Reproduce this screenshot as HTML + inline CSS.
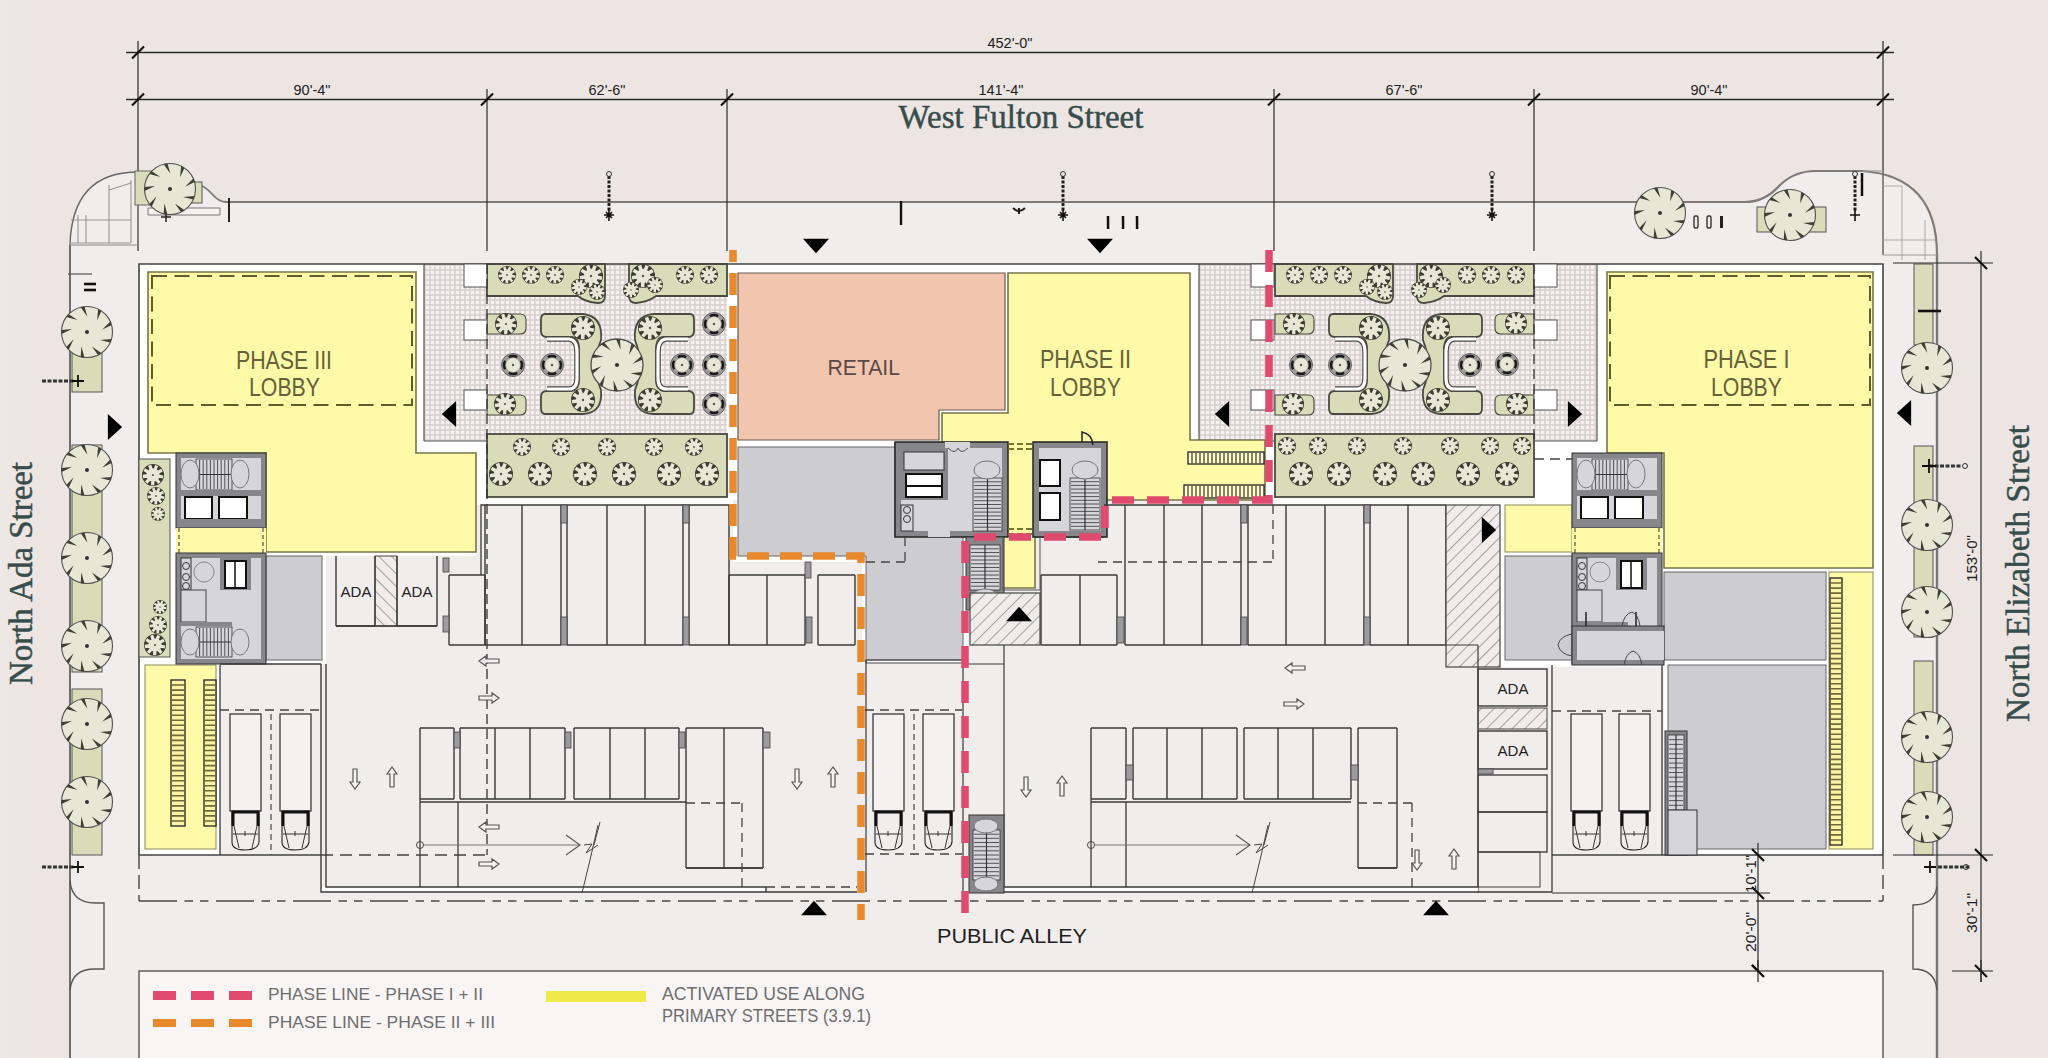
<!DOCTYPE html><html><head><meta charset="utf-8"><style>html,body{margin:0;padding:0;overflow:hidden;background:#ece5e2}svg{display:block}</style></head><body><svg width="2048" height="1058" viewBox="0 0 2048 1058">
<defs><pattern id="pav" width="5" height="5" patternUnits="userSpaceOnUse"><rect width="5" height="5" fill="#d8d1d0"/><rect x="0.8" y="0.8" width="3.4" height="3.4" fill="#f7f1f1"/></pattern><pattern id="hat" width="9" height="9" patternUnits="userSpaceOnUse" patternTransform="rotate(45)"><rect width="9" height="9" fill="#f1eceb"/><line x1="0" y1="0" x2="0" y2="9" stroke="#555" stroke-width="1"/></pattern><linearGradient id="vig" x1="0" x2="1" y1="0" y2="0"><stop offset="0" stop-color="#eee8e6"/><stop offset="0.02" stop-color="#ede6e3" stop-opacity="0"/><stop offset="1" stop-color="#ede6e3" stop-opacity="0"/></linearGradient><pattern id="hat2" width="9" height="9" patternUnits="userSpaceOnUse" patternTransform="rotate(-45)"><rect width="9" height="9" fill="#f1eceb"/><line x1="0" y1="0" x2="0" y2="9" stroke="#555" stroke-width="1"/></pattern></defs>
<rect x="0" y="0" width="2048" height="1058" fill="#ece5e2" stroke="none" stroke-width="1" />
<path d="M70 1058 L70 245 Q72 172 138 172 L180 172 Q205 185 215 196 Q220 202 230 202 L1745 202 Q1765 202 1780 185 Q1795 171 1815 171 L1862 171 Q1937 176 1937 255 L1937 1058 Z" fill="#f1edec" stroke="none" stroke-width="1" />
<path d="M225 202 L1745 202 Q1765 202 1780 185 Q1795 171 1815 171 L1862 171 Q1937 176 1937 255 L1937 1058" fill="none" stroke="#807a78" stroke-width="2.2" />
<path d="M70 1058 L70 245 Q72 172 138 172" fill="none" stroke="#666" stroke-width="1.4" />
<rect x="0" y="0" width="2048" height="1058" fill="url(#vig)" stroke="none" stroke-width="1" />
<line x1="126" y1="52.5" x2="1894" y2="52.5" stroke="#2a2a2a" stroke-width="1.3" />
<line x1="126" y1="99.5" x2="1894" y2="99.5" stroke="#2a2a2a" stroke-width="1.3" />
<line x1="138" y1="41" x2="138" y2="251" stroke="#2a2a2a" stroke-width="1.2" />
<line x1="1883" y1="41" x2="1883" y2="255" stroke="#2a2a2a" stroke-width="1.2" />
<line x1="487" y1="89" x2="487" y2="251" stroke="#2a2a2a" stroke-width="1.2" />
<line x1="727" y1="89" x2="727" y2="251" stroke="#2a2a2a" stroke-width="1.2" />
<line x1="1274" y1="89" x2="1274" y2="251" stroke="#2a2a2a" stroke-width="1.2" />
<line x1="1534" y1="89" x2="1534" y2="251" stroke="#2a2a2a" stroke-width="1.2" />
<line x1="132" y1="58.5" x2="144" y2="46.5" stroke="#111" stroke-width="2.2" />
<line x1="132" y1="105.5" x2="144" y2="93.5" stroke="#111" stroke-width="2.2" />
<line x1="1877" y1="58.5" x2="1889" y2="46.5" stroke="#111" stroke-width="2.2" />
<line x1="1877" y1="105.5" x2="1889" y2="93.5" stroke="#111" stroke-width="2.2" />
<line x1="481" y1="105.5" x2="493" y2="93.5" stroke="#111" stroke-width="2.2" />
<line x1="721" y1="105.5" x2="733" y2="93.5" stroke="#111" stroke-width="2.2" />
<line x1="1268" y1="105.5" x2="1280" y2="93.5" stroke="#111" stroke-width="2.2" />
<line x1="1528" y1="105.5" x2="1540" y2="93.5" stroke="#111" stroke-width="2.2" />
<text x="1010" y="48" font-family="Liberation Sans" font-size="14.5" fill="#222" text-anchor="middle" >452'-0"</text>
<text x="312" y="95" font-family="Liberation Sans" font-size="14.5" fill="#222" text-anchor="middle" >90'-4"</text>
<text x="607" y="95" font-family="Liberation Sans" font-size="14.5" fill="#222" text-anchor="middle" >62'-6"</text>
<text x="1001" y="95" font-family="Liberation Sans" font-size="14.5" fill="#222" text-anchor="middle" >141'-4"</text>
<text x="1404" y="95" font-family="Liberation Sans" font-size="14.5" fill="#222" text-anchor="middle" >67'-6"</text>
<text x="1709" y="95" font-family="Liberation Sans" font-size="14.5" fill="#222" text-anchor="middle" >90'-4"</text>
<text x="1021" y="128" font-family="Liberation Serif" font-size="33" fill="#374d4c" text-anchor="middle" stroke="#374d4c" stroke-width="0.45">West Fulton Street</text>
<rect x="139" y="264" width="1744" height="591" fill="#f1edec" stroke="none" stroke-width="1" />
<path d="M139 264 L1883 264 L1883 855 L1664 855 L1664 667 L1500 667 L1500 505 L1274 505 L1274 500 L733 500 L733 505 L476 505 L476 556 L326 556 L326 664 L220 664 L220 855 L139 855 Z" fill="#ffffff" stroke="none" stroke-width="1" />
<path d="M733 505 L733 562 L862 562 L862 664 L968 664 L968 537 L1104 537 L1104 505 Z" fill="#ffffff" stroke="none" stroke-width="1" />
<rect x="424" y="264" width="63" height="177" fill="url(#pav)" stroke="none" stroke-width="1" />
<rect x="487" y="264" width="240" height="170" fill="url(#pav)" stroke="none" stroke-width="1" />
<rect x="1199" y="264" width="76" height="177" fill="url(#pav)" stroke="none" stroke-width="1" />
<rect x="1275" y="264" width="259" height="170" fill="url(#pav)" stroke="none" stroke-width="1" />
<rect x="1534" y="264" width="63" height="177" fill="url(#pav)" stroke="none" stroke-width="1" />
<path d="M424 441 L487 441 M424 264 L424 441 M1199 264 L1199 441 L1275 441 M1534 441 L1597 441 L1597 264" fill="none" stroke="#555" stroke-width="1.2" />
<path d="M148 272 L416 272 L416 453 L476 453 L476 552 L266 552 L266 453 L148 453 Z" fill="#fffaa8" stroke="#77754a" stroke-width="1.6" />
<rect x="152" y="276" width="260" height="129" fill="none" stroke="#5f5d2c" stroke-width="2" stroke-dasharray="15 7.5"/>
<path d="M738 273 L1005 273 L1005 410 L939 410 L939 440 L738 440 Z" fill="#f2c6ae" stroke="#6a5a50" stroke-width="1.2" />
<path d="M1008 273 L1190 273 L1190 440 L1265 440 L1265 500 L1104 500 L1104 537 L1035 537 L1035 588 L1003 588 L1003 537 L895 537 L895 443 L942 443 L942 413 L1008 413 Z" fill="#fffaa8" stroke="#77754a" stroke-width="1.6" />
<path d="M1607 272 L1873 272 L1873 568 L1664 568 L1664 453 L1607 453 Z" fill="#fffaa8" stroke="#77754a" stroke-width="1.6" />
<rect x="1505" y="505" width="67" height="47" fill="#fffaa8" stroke="#8a8a5a" stroke-width="1" />
<rect x="1610" y="276" width="260" height="129" fill="none" stroke="#5f5d2c" stroke-width="2" stroke-dasharray="15 7.5"/>
<rect x="738" y="447" width="157" height="109" fill="#cdccd1" stroke="#666" stroke-width="1" />
<rect x="866" y="537" width="97" height="123" fill="#cdccd1" stroke="none" stroke-width="1" />
<path d="M866 556 L866 660 L963 660 L963 537" fill="none" stroke="#666" stroke-width="1" />
<rect x="266" y="556" width="56" height="104" fill="#cdccd1" stroke="#666" stroke-width="1" />
<rect x="1505" y="556" width="67" height="104" fill="#cdccd1" stroke="#666" stroke-width="1" />
<rect x="1664" y="572" width="162" height="88" fill="#cdccd1" stroke="#666" stroke-width="1" />
<rect x="1668" y="665" width="158" height="184" fill="#cdccd1" stroke="#666" stroke-width="1" />
<rect x="145" y="665" width="71" height="184" fill="#fffaa8" stroke="#8a8a5a" stroke-width="1" />
<rect x="1829" y="572" width="44" height="277" fill="#fffaa8" stroke="#8a8a5a" stroke-width="1" />
<path d="M139 855 L139 264 L1883 264 L1883 855 M139 855 L321 855 M1552 855 L1883 855" fill="none" stroke="#444" stroke-width="1.6" />
<line x1="321" y1="855" x2="487" y2="855" stroke="#444" stroke-width="1.4" stroke-dasharray="12 7"/>
<path d="M487 264 L605 264 L605 296 Q605 303 598 303 Q585 302 578 296 L487 296 Z" fill="#d9dcb9" stroke="#4a4a42" stroke-width="1.8" />
<path d="M629 264 L727 264 L727 296 L656 296 Q648 302 636 303 Q629 303 629 296 Z" fill="#d9dcb9" stroke="#4a4a42" stroke-width="1.8" />
<rect x="487" y="434" width="240" height="63" fill="#d9dcb9" stroke="#4a4a42" stroke-width="1.8" />
<path d="M545 314 L583 314 Q603 316 601 340 Q591 365 601 390 Q603 413 583 414 L545 414 Q541 414 541 408 L541 397 Q541 391 547 391 L571 391 Q579 390 579 380 L579 350 Q579 337 571 337 L547 337 Q541 337 541 331 L541 320 Q541 314 545 314 Z" fill="#d9dcb9" stroke="#4a4a42" stroke-width="1.8" />
<path d="M547 339 L569 339 Q577 340 577 352 L577 378 Q577 389 569 389 L547 389" fill="none" stroke="#4a4a42" stroke-width="5.5" />
<path d="M547 339 L569 339 Q577 340 577 352 L577 378 Q577 389 569 389 L547 389" fill="none" stroke="#fff" stroke-width="3.2" />
<path d="M690 314 L653 314 Q633 316 635 340 Q645 365 635 390 Q633 413 653 414 L690 414 Q694 414 694 408 L694 397 Q694 391 688 391 L664 391 Q656 390 656 380 L656 350 Q656 337 664 337 L688 337 Q694 337 694 331 L694 320 Q694 314 690 314 Z" fill="#d9dcb9" stroke="#4a4a42" stroke-width="1.8" />
<path d="M688 339 L666 339 Q658 340 658 352 L658 378 Q658 389 666 389 L688 389" fill="none" stroke="#4a4a42" stroke-width="5.5" />
<path d="M688 339 L666 339 Q658 340 658 352 L658 378 Q658 389 666 389 L688 389" fill="none" stroke="#fff" stroke-width="3.2" />
<path d="M487 314 L520 314 Q526 314 526 320 L526 328 Q526 334 520 334 L487 334 Z" fill="#d9dcb9" stroke="#4a4a42" stroke-width="1.1" />
<path d="M487 395 L520 395 Q526 395 526 401 L526 409 Q526 415 520 415 L487 415 Z" fill="#d9dcb9" stroke="#4a4a42" stroke-width="1.1" />
<circle cx="507" cy="275" r="9" fill="#3b3c32"/>
<circle cx="507" cy="275" r="5.4" fill="#e6e8d5"/>
<path d="M507.0 275.0L515.2 276.7M507.0 275.0L512.2 281.5M507.0 275.0L506.8 283.4M507.0 275.0L501.5 281.3M507.0 275.0L498.7 276.2M507.0 275.0L499.9 270.6M507.0 275.0L504.3 267.1M507.0 275.0L510.1 267.2M507.0 275.0L514.4 271.0" stroke="#e6e8d5" stroke-width="2.70" fill="none"/>
<circle cx="507" cy="275" r="0.9" fill="#555"/>
<circle cx="531" cy="275" r="9" fill="#3b3c32"/>
<circle cx="531" cy="275" r="5.4" fill="#e6e8d5"/>
<path d="M531.0 275.0L539.2 276.7M531.0 275.0L536.2 281.5M531.0 275.0L530.8 283.4M531.0 275.0L525.5 281.3M531.0 275.0L522.7 276.2M531.0 275.0L523.9 270.6M531.0 275.0L528.3 267.1M531.0 275.0L534.1 267.2M531.0 275.0L538.4 271.0" stroke="#e6e8d5" stroke-width="2.70" fill="none"/>
<circle cx="531" cy="275" r="0.9" fill="#555"/>
<circle cx="555" cy="275" r="9" fill="#3b3c32"/>
<circle cx="555" cy="275" r="5.4" fill="#e6e8d5"/>
<path d="M555.0 275.0L563.2 276.7M555.0 275.0L560.2 281.5M555.0 275.0L554.8 283.4M555.0 275.0L549.5 281.3M555.0 275.0L546.7 276.2M555.0 275.0L547.9 270.6M555.0 275.0L552.3 267.1M555.0 275.0L558.1 267.2M555.0 275.0L562.4 271.0" stroke="#e6e8d5" stroke-width="2.70" fill="none"/>
<circle cx="555" cy="275" r="0.9" fill="#555"/>
<circle cx="591" cy="276" r="12" fill="#3b3c32"/>
<circle cx="591" cy="276" r="7.2" fill="#e6e8d5"/>
<path d="M591.0 276.0L601.9 278.2M591.0 276.0L598.0 284.7M591.0 276.0L590.7 287.2M591.0 276.0L583.6 284.4M591.0 276.0L580.0 277.7M591.0 276.0L581.5 270.2M591.0 276.0L587.5 265.4M591.0 276.0L595.1 265.6M591.0 276.0L600.8 270.7" stroke="#e6e8d5" stroke-width="3.60" fill="none"/>
<circle cx="591" cy="276" r="1.2" fill="#555"/>
<circle cx="579" cy="287" r="8" fill="#3b3c32"/>
<circle cx="579" cy="287" r="4.8" fill="#e6e8d5"/>
<path d="M579.0 287.0L586.3 288.5M579.0 287.0L583.6 292.8M579.0 287.0L578.8 294.4M579.0 287.0L574.1 292.6M579.0 287.0L571.6 288.1M579.0 287.0L572.7 283.1M579.0 287.0L576.6 279.9M579.0 287.0L581.7 280.1M579.0 287.0L585.5 283.4" stroke="#e6e8d5" stroke-width="2.40" fill="none"/>
<circle cx="579" cy="287" r="0.8" fill="#555"/>
<circle cx="597" cy="292" r="8" fill="#3b3c32"/>
<circle cx="597" cy="292" r="4.8" fill="#e6e8d5"/>
<path d="M597.0 292.0L604.3 293.5M597.0 292.0L601.6 297.8M597.0 292.0L596.8 299.4M597.0 292.0L592.1 297.6M597.0 292.0L589.6 293.1M597.0 292.0L590.7 288.1M597.0 292.0L594.6 284.9M597.0 292.0L599.7 285.1M597.0 292.0L603.5 288.4" stroke="#e6e8d5" stroke-width="2.40" fill="none"/>
<circle cx="597" cy="292" r="0.8" fill="#555"/>
<circle cx="643" cy="276" r="12" fill="#3b3c32"/>
<circle cx="643" cy="276" r="7.2" fill="#e6e8d5"/>
<path d="M643.0 276.0L653.9 278.2M643.0 276.0L650.0 284.7M643.0 276.0L642.7 287.2M643.0 276.0L635.6 284.4M643.0 276.0L632.0 277.7M643.0 276.0L633.5 270.2M643.0 276.0L639.5 265.4M643.0 276.0L647.1 265.6M643.0 276.0L652.8 270.7" stroke="#e6e8d5" stroke-width="3.60" fill="none"/>
<circle cx="643" cy="276" r="1.2" fill="#555"/>
<circle cx="631" cy="290" r="8" fill="#3b3c32"/>
<circle cx="631" cy="290" r="4.8" fill="#e6e8d5"/>
<path d="M631.0 290.0L638.3 291.5M631.0 290.0L635.6 295.8M631.0 290.0L630.8 297.4M631.0 290.0L626.1 295.6M631.0 290.0L623.6 291.1M631.0 290.0L624.7 286.1M631.0 290.0L628.6 282.9M631.0 290.0L633.7 283.1M631.0 290.0L637.5 286.4" stroke="#e6e8d5" stroke-width="2.40" fill="none"/>
<circle cx="631" cy="290" r="0.8" fill="#555"/>
<circle cx="655" cy="285" r="8" fill="#3b3c32"/>
<circle cx="655" cy="285" r="4.8" fill="#e6e8d5"/>
<path d="M655.0 285.0L662.3 286.5M655.0 285.0L659.6 290.8M655.0 285.0L654.8 292.4M655.0 285.0L650.1 290.6M655.0 285.0L647.6 286.1M655.0 285.0L648.7 281.1M655.0 285.0L652.6 277.9M655.0 285.0L657.7 278.1M655.0 285.0L661.5 281.4" stroke="#e6e8d5" stroke-width="2.40" fill="none"/>
<circle cx="655" cy="285" r="0.8" fill="#555"/>
<circle cx="685" cy="275" r="9" fill="#3b3c32"/>
<circle cx="685" cy="275" r="5.4" fill="#e6e8d5"/>
<path d="M685.0 275.0L693.2 276.7M685.0 275.0L690.2 281.5M685.0 275.0L684.8 283.4M685.0 275.0L679.5 281.3M685.0 275.0L676.7 276.2M685.0 275.0L677.9 270.6M685.0 275.0L682.3 267.1M685.0 275.0L688.1 267.2M685.0 275.0L692.4 271.0" stroke="#e6e8d5" stroke-width="2.70" fill="none"/>
<circle cx="685" cy="275" r="0.9" fill="#555"/>
<circle cx="709" cy="275" r="9" fill="#3b3c32"/>
<circle cx="709" cy="275" r="5.4" fill="#e6e8d5"/>
<path d="M709.0 275.0L717.2 276.7M709.0 275.0L714.2 281.5M709.0 275.0L708.8 283.4M709.0 275.0L703.5 281.3M709.0 275.0L700.7 276.2M709.0 275.0L701.9 270.6M709.0 275.0L706.3 267.1M709.0 275.0L712.1 267.2M709.0 275.0L716.4 271.0" stroke="#e6e8d5" stroke-width="2.70" fill="none"/>
<circle cx="709" cy="275" r="0.9" fill="#555"/>
<circle cx="506" cy="324" r="11" fill="#3b3c32"/>
<circle cx="506" cy="324" r="6.6" fill="#e6e8d5"/>
<path d="M506.0 324.0L516.0 326.0M506.0 324.0L512.4 332.0M506.0 324.0L505.7 334.2M506.0 324.0L499.2 331.7M506.0 324.0L495.9 325.5M506.0 324.0L497.3 318.7M506.0 324.0L502.7 314.3M506.0 324.0L509.7 314.5M506.0 324.0L515.0 319.1" stroke="#e6e8d5" stroke-width="3.30" fill="none"/>
<circle cx="506" cy="324" r="1.1" fill="#555"/>
<circle cx="505" cy="404" r="11" fill="#3b3c32"/>
<circle cx="505" cy="404" r="6.6" fill="#e6e8d5"/>
<path d="M505.0 404.0L515.0 406.0M505.0 404.0L511.4 412.0M505.0 404.0L504.7 414.2M505.0 404.0L498.2 411.7M505.0 404.0L494.9 405.5M505.0 404.0L496.3 398.7M505.0 404.0L501.7 394.3M505.0 404.0L508.7 394.5M505.0 404.0L514.0 399.1" stroke="#e6e8d5" stroke-width="3.30" fill="none"/>
<circle cx="505" cy="404" r="1.1" fill="#555"/>
<circle cx="583" cy="328" r="12" fill="#3b3c32"/>
<circle cx="583" cy="328" r="7.2" fill="#e6e8d5"/>
<path d="M583.0 328.0L593.9 330.2M583.0 328.0L590.0 336.7M583.0 328.0L582.7 339.2M583.0 328.0L575.6 336.4M583.0 328.0L572.0 329.7M583.0 328.0L573.5 322.2M583.0 328.0L579.5 317.4M583.0 328.0L587.1 317.6M583.0 328.0L592.8 322.7" stroke="#e6e8d5" stroke-width="3.60" fill="none"/>
<circle cx="583" cy="328" r="1.2" fill="#555"/>
<circle cx="583" cy="400" r="12" fill="#3b3c32"/>
<circle cx="583" cy="400" r="7.2" fill="#e6e8d5"/>
<path d="M583.0 400.0L593.9 402.2M583.0 400.0L590.0 408.7M583.0 400.0L582.7 411.2M583.0 400.0L575.6 408.4M583.0 400.0L572.0 401.7M583.0 400.0L573.5 394.2M583.0 400.0L579.5 389.4M583.0 400.0L587.1 389.6M583.0 400.0L592.8 394.7" stroke="#e6e8d5" stroke-width="3.60" fill="none"/>
<circle cx="583" cy="400" r="1.2" fill="#555"/>
<circle cx="650" cy="328" r="12" fill="#3b3c32"/>
<circle cx="650" cy="328" r="7.2" fill="#e6e8d5"/>
<path d="M650.0 328.0L660.9 330.2M650.0 328.0L657.0 336.7M650.0 328.0L649.7 339.2M650.0 328.0L642.6 336.4M650.0 328.0L639.0 329.7M650.0 328.0L640.5 322.2M650.0 328.0L646.5 317.4M650.0 328.0L654.1 317.6M650.0 328.0L659.8 322.7" stroke="#e6e8d5" stroke-width="3.60" fill="none"/>
<circle cx="650" cy="328" r="1.2" fill="#555"/>
<circle cx="650" cy="400" r="12" fill="#3b3c32"/>
<circle cx="650" cy="400" r="7.2" fill="#e6e8d5"/>
<path d="M650.0 400.0L660.9 402.2M650.0 400.0L657.0 408.7M650.0 400.0L649.7 411.2M650.0 400.0L642.6 408.4M650.0 400.0L639.0 401.7M650.0 400.0L640.5 394.2M650.0 400.0L646.5 389.4M650.0 400.0L654.1 389.6M650.0 400.0L659.8 394.7" stroke="#e6e8d5" stroke-width="3.60" fill="none"/>
<circle cx="650" cy="400" r="1.2" fill="#555"/>
<circle cx="617" cy="365" r="26" fill="#e6e8d5" stroke="#505050" stroke-width="1.3"/>
<path d="M642.0 372.1L640.7 375.7L630.3 373.2ZM633.1 385.4L629.9 387.6L623.0 379.4ZM618.0 391.0L614.1 390.8L613.4 380.2ZM602.6 386.6L599.5 384.2L605.1 375.1ZM592.6 374.0L591.5 370.2L601.4 366.2ZM592.0 357.9L593.3 354.3L603.7 356.8ZM600.9 344.6L604.1 342.4L611.0 350.6ZM616.0 339.0L619.9 339.2L620.6 349.8ZM631.4 343.4L634.5 345.8L628.9 354.9ZM641.4 356.0L642.5 359.8L632.6 363.8Z" fill="#3f4035" stroke="none"/>
<circle cx="617" cy="365" r="2.1" fill="#333"/>
<circle cx="513" cy="365" r="11.5" fill="#9c9b98" stroke="#666" stroke-width="1"/>
<circle cx="513" cy="365" r="6.9" fill="#e6e8d5"/>
<path d="M520.9 360.8A9.0 9.0 0 0 1 520.9 369.2M517.2 372.9A9.0 9.0 0 0 1 508.8 372.9M505.1 369.2A9.0 9.0 0 0 1 505.1 360.8M508.8 357.1A9.0 9.0 0 0 1 517.2 357.1" fill="none" stroke="#1a1a1a" stroke-width="2.4"/>
<circle cx="513" cy="365" r="1.2" fill="#555"/>
<circle cx="552" cy="365" r="11.5" fill="#9c9b98" stroke="#666" stroke-width="1"/>
<circle cx="552" cy="365" r="6.9" fill="#e6e8d5"/>
<path d="M559.9 360.8A9.0 9.0 0 0 1 559.9 369.2M556.2 372.9A9.0 9.0 0 0 1 547.8 372.9M544.1 369.2A9.0 9.0 0 0 1 544.1 360.8M547.8 357.1A9.0 9.0 0 0 1 556.2 357.1" fill="none" stroke="#1a1a1a" stroke-width="2.4"/>
<circle cx="552" cy="365" r="1.2" fill="#555"/>
<circle cx="682" cy="365" r="11.5" fill="#9c9b98" stroke="#666" stroke-width="1"/>
<circle cx="682" cy="365" r="6.9" fill="#e6e8d5"/>
<path d="M689.9 360.8A9.0 9.0 0 0 1 689.9 369.2M686.2 372.9A9.0 9.0 0 0 1 677.8 372.9M674.1 369.2A9.0 9.0 0 0 1 674.1 360.8M677.8 357.1A9.0 9.0 0 0 1 686.2 357.1" fill="none" stroke="#1a1a1a" stroke-width="2.4"/>
<circle cx="682" cy="365" r="1.2" fill="#555"/>
<circle cx="714" cy="365" r="11.5" fill="#9c9b98" stroke="#666" stroke-width="1"/>
<circle cx="714" cy="365" r="6.9" fill="#e6e8d5"/>
<path d="M721.9 360.8A9.0 9.0 0 0 1 721.9 369.2M718.2 372.9A9.0 9.0 0 0 1 709.8 372.9M706.1 369.2A9.0 9.0 0 0 1 706.1 360.8M709.8 357.1A9.0 9.0 0 0 1 718.2 357.1" fill="none" stroke="#1a1a1a" stroke-width="2.4"/>
<circle cx="714" cy="365" r="1.2" fill="#555"/>
<circle cx="714" cy="324" r="11.5" fill="#9c9b98" stroke="#666" stroke-width="1"/>
<circle cx="714" cy="324" r="6.9" fill="#e6e8d5"/>
<path d="M721.9 319.8A9.0 9.0 0 0 1 721.9 328.2M718.2 331.9A9.0 9.0 0 0 1 709.8 331.9M706.1 328.2A9.0 9.0 0 0 1 706.1 319.8M709.8 316.1A9.0 9.0 0 0 1 718.2 316.1" fill="none" stroke="#1a1a1a" stroke-width="2.4"/>
<circle cx="714" cy="324" r="1.2" fill="#555"/>
<circle cx="714" cy="404" r="11.5" fill="#9c9b98" stroke="#666" stroke-width="1"/>
<circle cx="714" cy="404" r="6.9" fill="#e6e8d5"/>
<path d="M721.9 399.8A9.0 9.0 0 0 1 721.9 408.2M718.2 411.9A9.0 9.0 0 0 1 709.8 411.9M706.1 408.2A9.0 9.0 0 0 1 706.1 399.8M709.8 396.1A9.0 9.0 0 0 1 718.2 396.1" fill="none" stroke="#1a1a1a" stroke-width="2.4"/>
<circle cx="714" cy="404" r="1.2" fill="#555"/>
<circle cx="522" cy="447" r="9" fill="#3b3c32"/>
<circle cx="522" cy="447" r="5.4" fill="#e6e8d5"/>
<path d="M522.0 447.0L530.2 448.7M522.0 447.0L527.2 453.5M522.0 447.0L521.8 455.4M522.0 447.0L516.5 453.3M522.0 447.0L513.7 448.2M522.0 447.0L514.9 442.6M522.0 447.0L519.3 439.1M522.0 447.0L525.1 439.2M522.0 447.0L529.4 443.0" stroke="#e6e8d5" stroke-width="2.70" fill="none"/>
<circle cx="522" cy="447" r="0.9" fill="#555"/>
<circle cx="561" cy="447" r="9" fill="#3b3c32"/>
<circle cx="561" cy="447" r="5.4" fill="#e6e8d5"/>
<path d="M561.0 447.0L569.2 448.7M561.0 447.0L566.2 453.5M561.0 447.0L560.8 455.4M561.0 447.0L555.5 453.3M561.0 447.0L552.7 448.2M561.0 447.0L553.9 442.6M561.0 447.0L558.3 439.1M561.0 447.0L564.1 439.2M561.0 447.0L568.4 443.0" stroke="#e6e8d5" stroke-width="2.70" fill="none"/>
<circle cx="561" cy="447" r="0.9" fill="#555"/>
<circle cx="607" cy="447" r="9" fill="#3b3c32"/>
<circle cx="607" cy="447" r="5.4" fill="#e6e8d5"/>
<path d="M607.0 447.0L615.2 448.7M607.0 447.0L612.2 453.5M607.0 447.0L606.8 455.4M607.0 447.0L601.5 453.3M607.0 447.0L598.7 448.2M607.0 447.0L599.9 442.6M607.0 447.0L604.3 439.1M607.0 447.0L610.1 439.2M607.0 447.0L614.4 443.0" stroke="#e6e8d5" stroke-width="2.70" fill="none"/>
<circle cx="607" cy="447" r="0.9" fill="#555"/>
<circle cx="654" cy="447" r="9" fill="#3b3c32"/>
<circle cx="654" cy="447" r="5.4" fill="#e6e8d5"/>
<path d="M654.0 447.0L662.2 448.7M654.0 447.0L659.2 453.5M654.0 447.0L653.8 455.4M654.0 447.0L648.5 453.3M654.0 447.0L645.7 448.2M654.0 447.0L646.9 442.6M654.0 447.0L651.3 439.1M654.0 447.0L657.1 439.2M654.0 447.0L661.4 443.0" stroke="#e6e8d5" stroke-width="2.70" fill="none"/>
<circle cx="654" cy="447" r="0.9" fill="#555"/>
<circle cx="694" cy="447" r="9" fill="#3b3c32"/>
<circle cx="694" cy="447" r="5.4" fill="#e6e8d5"/>
<path d="M694.0 447.0L702.2 448.7M694.0 447.0L699.2 453.5M694.0 447.0L693.8 455.4M694.0 447.0L688.5 453.3M694.0 447.0L685.7 448.2M694.0 447.0L686.9 442.6M694.0 447.0L691.3 439.1M694.0 447.0L697.1 439.2M694.0 447.0L701.4 443.0" stroke="#e6e8d5" stroke-width="2.70" fill="none"/>
<circle cx="694" cy="447" r="0.9" fill="#555"/>
<circle cx="501" cy="474" r="12" fill="#3b3c32"/>
<circle cx="501" cy="474" r="7.2" fill="#e6e8d5"/>
<path d="M501.0 474.0L511.9 476.2M501.0 474.0L508.0 482.7M501.0 474.0L500.7 485.2M501.0 474.0L493.6 482.4M501.0 474.0L490.0 475.7M501.0 474.0L491.5 468.2M501.0 474.0L497.5 463.4M501.0 474.0L505.1 463.6M501.0 474.0L510.8 468.7" stroke="#e6e8d5" stroke-width="3.60" fill="none"/>
<circle cx="501" cy="474" r="1.2" fill="#555"/>
<circle cx="540" cy="474" r="12" fill="#3b3c32"/>
<circle cx="540" cy="474" r="7.2" fill="#e6e8d5"/>
<path d="M540.0 474.0L550.9 476.2M540.0 474.0L547.0 482.7M540.0 474.0L539.7 485.2M540.0 474.0L532.6 482.4M540.0 474.0L529.0 475.7M540.0 474.0L530.5 468.2M540.0 474.0L536.5 463.4M540.0 474.0L544.1 463.6M540.0 474.0L549.8 468.7" stroke="#e6e8d5" stroke-width="3.60" fill="none"/>
<circle cx="540" cy="474" r="1.2" fill="#555"/>
<circle cx="585" cy="474" r="12" fill="#3b3c32"/>
<circle cx="585" cy="474" r="7.2" fill="#e6e8d5"/>
<path d="M585.0 474.0L595.9 476.2M585.0 474.0L592.0 482.7M585.0 474.0L584.7 485.2M585.0 474.0L577.6 482.4M585.0 474.0L574.0 475.7M585.0 474.0L575.5 468.2M585.0 474.0L581.5 463.4M585.0 474.0L589.1 463.6M585.0 474.0L594.8 468.7" stroke="#e6e8d5" stroke-width="3.60" fill="none"/>
<circle cx="585" cy="474" r="1.2" fill="#555"/>
<circle cx="624" cy="474" r="12" fill="#3b3c32"/>
<circle cx="624" cy="474" r="7.2" fill="#e6e8d5"/>
<path d="M624.0 474.0L634.9 476.2M624.0 474.0L631.0 482.7M624.0 474.0L623.7 485.2M624.0 474.0L616.6 482.4M624.0 474.0L613.0 475.7M624.0 474.0L614.5 468.2M624.0 474.0L620.5 463.4M624.0 474.0L628.1 463.6M624.0 474.0L633.8 468.7" stroke="#e6e8d5" stroke-width="3.60" fill="none"/>
<circle cx="624" cy="474" r="1.2" fill="#555"/>
<circle cx="669" cy="474" r="12" fill="#3b3c32"/>
<circle cx="669" cy="474" r="7.2" fill="#e6e8d5"/>
<path d="M669.0 474.0L679.9 476.2M669.0 474.0L676.0 482.7M669.0 474.0L668.7 485.2M669.0 474.0L661.6 482.4M669.0 474.0L658.0 475.7M669.0 474.0L659.5 468.2M669.0 474.0L665.5 463.4M669.0 474.0L673.1 463.6M669.0 474.0L678.8 468.7" stroke="#e6e8d5" stroke-width="3.60" fill="none"/>
<circle cx="669" cy="474" r="1.2" fill="#555"/>
<circle cx="707" cy="474" r="12" fill="#3b3c32"/>
<circle cx="707" cy="474" r="7.2" fill="#e6e8d5"/>
<path d="M707.0 474.0L717.9 476.2M707.0 474.0L714.0 482.7M707.0 474.0L706.7 485.2M707.0 474.0L699.6 482.4M707.0 474.0L696.0 475.7M707.0 474.0L697.5 468.2M707.0 474.0L703.5 463.4M707.0 474.0L711.1 463.6M707.0 474.0L716.8 468.7" stroke="#e6e8d5" stroke-width="3.60" fill="none"/>
<circle cx="707" cy="474" r="1.2" fill="#555"/>
<path d="M1275 264 L1393 264 L1393 296 Q1393 303 1386 303 Q1373 302 1366 296 L1275 296 Z" fill="#d9dcb9" stroke="#4a4a42" stroke-width="1.8" />
<path d="M1417 264 L1534 264 L1534 296 L1444 296 Q1436 302 1424 303 Q1417 303 1417 296 Z" fill="#d9dcb9" stroke="#4a4a42" stroke-width="1.8" />
<rect x="1275" y="434" width="259" height="63" fill="#d9dcb9" stroke="#4a4a42" stroke-width="1.8" />
<path d="M1333 314 L1371 314 Q1391 316 1389 340 Q1379 365 1389 390 Q1391 413 1371 414 L1333 414 Q1329 414 1329 408 L1329 397 Q1329 391 1335 391 L1359 391 Q1367 390 1367 380 L1367 350 Q1367 337 1359 337 L1335 337 Q1329 337 1329 331 L1329 320 Q1329 314 1333 314 Z" fill="#d9dcb9" stroke="#4a4a42" stroke-width="1.8" />
<path d="M1335 339 L1357 339 Q1365 340 1365 352 L1365 378 Q1365 389 1357 389 L1335 389" fill="none" stroke="#4a4a42" stroke-width="5.5" />
<path d="M1335 339 L1357 339 Q1365 340 1365 352 L1365 378 Q1365 389 1357 389 L1335 389" fill="none" stroke="#fff" stroke-width="3.2" />
<path d="M1478 314 L1441 314 Q1421 316 1423 340 Q1433 365 1423 390 Q1421 413 1441 414 L1478 414 Q1482 414 1482 408 L1482 397 Q1482 391 1476 391 L1452 391 Q1444 390 1444 380 L1444 350 Q1444 337 1452 337 L1476 337 Q1482 337 1482 331 L1482 320 Q1482 314 1478 314 Z" fill="#d9dcb9" stroke="#4a4a42" stroke-width="1.8" />
<path d="M1476 339 L1454 339 Q1446 340 1446 352 L1446 378 Q1446 389 1454 389 L1476 389" fill="none" stroke="#4a4a42" stroke-width="5.5" />
<path d="M1476 339 L1454 339 Q1446 340 1446 352 L1446 378 Q1446 389 1454 389 L1476 389" fill="none" stroke="#fff" stroke-width="3.2" />
<path d="M1275 314 L1308 314 Q1314 314 1314 320 L1314 328 Q1314 334 1308 334 L1275 334 Z" fill="#d9dcb9" stroke="#4a4a42" stroke-width="1.1" />
<path d="M1275 395 L1308 395 Q1314 395 1314 401 L1314 409 Q1314 415 1308 415 L1275 415 Z" fill="#d9dcb9" stroke="#4a4a42" stroke-width="1.1" />
<circle cx="1295" cy="275" r="9" fill="#3b3c32"/>
<circle cx="1295" cy="275" r="5.4" fill="#e6e8d5"/>
<path d="M1295.0 275.0L1303.2 276.7M1295.0 275.0L1300.2 281.5M1295.0 275.0L1294.8 283.4M1295.0 275.0L1289.5 281.3M1295.0 275.0L1286.7 276.2M1295.0 275.0L1287.9 270.6M1295.0 275.0L1292.3 267.1M1295.0 275.0L1298.1 267.2M1295.0 275.0L1302.4 271.0" stroke="#e6e8d5" stroke-width="2.70" fill="none"/>
<circle cx="1295" cy="275" r="0.9" fill="#555"/>
<circle cx="1319" cy="275" r="9" fill="#3b3c32"/>
<circle cx="1319" cy="275" r="5.4" fill="#e6e8d5"/>
<path d="M1319.0 275.0L1327.2 276.7M1319.0 275.0L1324.2 281.5M1319.0 275.0L1318.8 283.4M1319.0 275.0L1313.5 281.3M1319.0 275.0L1310.7 276.2M1319.0 275.0L1311.9 270.6M1319.0 275.0L1316.3 267.1M1319.0 275.0L1322.1 267.2M1319.0 275.0L1326.4 271.0" stroke="#e6e8d5" stroke-width="2.70" fill="none"/>
<circle cx="1319" cy="275" r="0.9" fill="#555"/>
<circle cx="1343" cy="275" r="9" fill="#3b3c32"/>
<circle cx="1343" cy="275" r="5.4" fill="#e6e8d5"/>
<path d="M1343.0 275.0L1351.2 276.7M1343.0 275.0L1348.2 281.5M1343.0 275.0L1342.8 283.4M1343.0 275.0L1337.5 281.3M1343.0 275.0L1334.7 276.2M1343.0 275.0L1335.9 270.6M1343.0 275.0L1340.3 267.1M1343.0 275.0L1346.1 267.2M1343.0 275.0L1350.4 271.0" stroke="#e6e8d5" stroke-width="2.70" fill="none"/>
<circle cx="1343" cy="275" r="0.9" fill="#555"/>
<circle cx="1379" cy="276" r="12" fill="#3b3c32"/>
<circle cx="1379" cy="276" r="7.2" fill="#e6e8d5"/>
<path d="M1379.0 276.0L1389.9 278.2M1379.0 276.0L1386.0 284.7M1379.0 276.0L1378.7 287.2M1379.0 276.0L1371.6 284.4M1379.0 276.0L1368.0 277.7M1379.0 276.0L1369.5 270.2M1379.0 276.0L1375.5 265.4M1379.0 276.0L1383.1 265.6M1379.0 276.0L1388.8 270.7" stroke="#e6e8d5" stroke-width="3.60" fill="none"/>
<circle cx="1379" cy="276" r="1.2" fill="#555"/>
<circle cx="1367" cy="287" r="8" fill="#3b3c32"/>
<circle cx="1367" cy="287" r="4.8" fill="#e6e8d5"/>
<path d="M1367.0 287.0L1374.3 288.5M1367.0 287.0L1371.6 292.8M1367.0 287.0L1366.8 294.4M1367.0 287.0L1362.1 292.6M1367.0 287.0L1359.6 288.1M1367.0 287.0L1360.7 283.1M1367.0 287.0L1364.6 279.9M1367.0 287.0L1369.7 280.1M1367.0 287.0L1373.5 283.4" stroke="#e6e8d5" stroke-width="2.40" fill="none"/>
<circle cx="1367" cy="287" r="0.8" fill="#555"/>
<circle cx="1385" cy="292" r="8" fill="#3b3c32"/>
<circle cx="1385" cy="292" r="4.8" fill="#e6e8d5"/>
<path d="M1385.0 292.0L1392.3 293.5M1385.0 292.0L1389.6 297.8M1385.0 292.0L1384.8 299.4M1385.0 292.0L1380.1 297.6M1385.0 292.0L1377.6 293.1M1385.0 292.0L1378.7 288.1M1385.0 292.0L1382.6 284.9M1385.0 292.0L1387.7 285.1M1385.0 292.0L1391.5 288.4" stroke="#e6e8d5" stroke-width="2.40" fill="none"/>
<circle cx="1385" cy="292" r="0.8" fill="#555"/>
<circle cx="1431" cy="276" r="12" fill="#3b3c32"/>
<circle cx="1431" cy="276" r="7.2" fill="#e6e8d5"/>
<path d="M1431.0 276.0L1441.9 278.2M1431.0 276.0L1438.0 284.7M1431.0 276.0L1430.7 287.2M1431.0 276.0L1423.6 284.4M1431.0 276.0L1420.0 277.7M1431.0 276.0L1421.5 270.2M1431.0 276.0L1427.5 265.4M1431.0 276.0L1435.1 265.6M1431.0 276.0L1440.8 270.7" stroke="#e6e8d5" stroke-width="3.60" fill="none"/>
<circle cx="1431" cy="276" r="1.2" fill="#555"/>
<circle cx="1419" cy="290" r="8" fill="#3b3c32"/>
<circle cx="1419" cy="290" r="4.8" fill="#e6e8d5"/>
<path d="M1419.0 290.0L1426.3 291.5M1419.0 290.0L1423.6 295.8M1419.0 290.0L1418.8 297.4M1419.0 290.0L1414.1 295.6M1419.0 290.0L1411.6 291.1M1419.0 290.0L1412.7 286.1M1419.0 290.0L1416.6 282.9M1419.0 290.0L1421.7 283.1M1419.0 290.0L1425.5 286.4" stroke="#e6e8d5" stroke-width="2.40" fill="none"/>
<circle cx="1419" cy="290" r="0.8" fill="#555"/>
<circle cx="1443" cy="285" r="8" fill="#3b3c32"/>
<circle cx="1443" cy="285" r="4.8" fill="#e6e8d5"/>
<path d="M1443.0 285.0L1450.3 286.5M1443.0 285.0L1447.6 290.8M1443.0 285.0L1442.8 292.4M1443.0 285.0L1438.1 290.6M1443.0 285.0L1435.6 286.1M1443.0 285.0L1436.7 281.1M1443.0 285.0L1440.6 277.9M1443.0 285.0L1445.7 278.1M1443.0 285.0L1449.5 281.4" stroke="#e6e8d5" stroke-width="2.40" fill="none"/>
<circle cx="1443" cy="285" r="0.8" fill="#555"/>
<circle cx="1467" cy="275" r="9" fill="#3b3c32"/>
<circle cx="1467" cy="275" r="5.4" fill="#e6e8d5"/>
<path d="M1467.0 275.0L1475.2 276.7M1467.0 275.0L1472.2 281.5M1467.0 275.0L1466.8 283.4M1467.0 275.0L1461.5 281.3M1467.0 275.0L1458.7 276.2M1467.0 275.0L1459.9 270.6M1467.0 275.0L1464.3 267.1M1467.0 275.0L1470.1 267.2M1467.0 275.0L1474.4 271.0" stroke="#e6e8d5" stroke-width="2.70" fill="none"/>
<circle cx="1467" cy="275" r="0.9" fill="#555"/>
<circle cx="1491" cy="275" r="9" fill="#3b3c32"/>
<circle cx="1491" cy="275" r="5.4" fill="#e6e8d5"/>
<path d="M1491.0 275.0L1499.2 276.7M1491.0 275.0L1496.2 281.5M1491.0 275.0L1490.8 283.4M1491.0 275.0L1485.5 281.3M1491.0 275.0L1482.7 276.2M1491.0 275.0L1483.9 270.6M1491.0 275.0L1488.3 267.1M1491.0 275.0L1494.1 267.2M1491.0 275.0L1498.4 271.0" stroke="#e6e8d5" stroke-width="2.70" fill="none"/>
<circle cx="1491" cy="275" r="0.9" fill="#555"/>
<circle cx="1516" cy="275" r="9" fill="#3b3c32"/>
<circle cx="1516" cy="275" r="5.4" fill="#e6e8d5"/>
<path d="M1516.0 275.0L1524.2 276.7M1516.0 275.0L1521.2 281.5M1516.0 275.0L1515.8 283.4M1516.0 275.0L1510.5 281.3M1516.0 275.0L1507.7 276.2M1516.0 275.0L1508.9 270.6M1516.0 275.0L1513.3 267.1M1516.0 275.0L1519.1 267.2M1516.0 275.0L1523.4 271.0" stroke="#e6e8d5" stroke-width="2.70" fill="none"/>
<circle cx="1516" cy="275" r="0.9" fill="#555"/>
<circle cx="1294" cy="324" r="11" fill="#3b3c32"/>
<circle cx="1294" cy="324" r="6.6" fill="#e6e8d5"/>
<path d="M1294.0 324.0L1304.0 326.0M1294.0 324.0L1300.4 332.0M1294.0 324.0L1293.7 334.2M1294.0 324.0L1287.2 331.7M1294.0 324.0L1283.9 325.5M1294.0 324.0L1285.3 318.7M1294.0 324.0L1290.7 314.3M1294.0 324.0L1297.7 314.5M1294.0 324.0L1303.0 319.1" stroke="#e6e8d5" stroke-width="3.30" fill="none"/>
<circle cx="1294" cy="324" r="1.1" fill="#555"/>
<circle cx="1293" cy="404" r="11" fill="#3b3c32"/>
<circle cx="1293" cy="404" r="6.6" fill="#e6e8d5"/>
<path d="M1293.0 404.0L1303.0 406.0M1293.0 404.0L1299.4 412.0M1293.0 404.0L1292.7 414.2M1293.0 404.0L1286.2 411.7M1293.0 404.0L1282.9 405.5M1293.0 404.0L1284.3 398.7M1293.0 404.0L1289.7 394.3M1293.0 404.0L1296.7 394.5M1293.0 404.0L1302.0 399.1" stroke="#e6e8d5" stroke-width="3.30" fill="none"/>
<circle cx="1293" cy="404" r="1.1" fill="#555"/>
<circle cx="1371" cy="328" r="12" fill="#3b3c32"/>
<circle cx="1371" cy="328" r="7.2" fill="#e6e8d5"/>
<path d="M1371.0 328.0L1381.9 330.2M1371.0 328.0L1378.0 336.7M1371.0 328.0L1370.7 339.2M1371.0 328.0L1363.6 336.4M1371.0 328.0L1360.0 329.7M1371.0 328.0L1361.5 322.2M1371.0 328.0L1367.5 317.4M1371.0 328.0L1375.1 317.6M1371.0 328.0L1380.8 322.7" stroke="#e6e8d5" stroke-width="3.60" fill="none"/>
<circle cx="1371" cy="328" r="1.2" fill="#555"/>
<circle cx="1371" cy="400" r="12" fill="#3b3c32"/>
<circle cx="1371" cy="400" r="7.2" fill="#e6e8d5"/>
<path d="M1371.0 400.0L1381.9 402.2M1371.0 400.0L1378.0 408.7M1371.0 400.0L1370.7 411.2M1371.0 400.0L1363.6 408.4M1371.0 400.0L1360.0 401.7M1371.0 400.0L1361.5 394.2M1371.0 400.0L1367.5 389.4M1371.0 400.0L1375.1 389.6M1371.0 400.0L1380.8 394.7" stroke="#e6e8d5" stroke-width="3.60" fill="none"/>
<circle cx="1371" cy="400" r="1.2" fill="#555"/>
<circle cx="1438" cy="328" r="12" fill="#3b3c32"/>
<circle cx="1438" cy="328" r="7.2" fill="#e6e8d5"/>
<path d="M1438.0 328.0L1448.9 330.2M1438.0 328.0L1445.0 336.7M1438.0 328.0L1437.7 339.2M1438.0 328.0L1430.6 336.4M1438.0 328.0L1427.0 329.7M1438.0 328.0L1428.5 322.2M1438.0 328.0L1434.5 317.4M1438.0 328.0L1442.1 317.6M1438.0 328.0L1447.8 322.7" stroke="#e6e8d5" stroke-width="3.60" fill="none"/>
<circle cx="1438" cy="328" r="1.2" fill="#555"/>
<circle cx="1438" cy="400" r="12" fill="#3b3c32"/>
<circle cx="1438" cy="400" r="7.2" fill="#e6e8d5"/>
<path d="M1438.0 400.0L1448.9 402.2M1438.0 400.0L1445.0 408.7M1438.0 400.0L1437.7 411.2M1438.0 400.0L1430.6 408.4M1438.0 400.0L1427.0 401.7M1438.0 400.0L1428.5 394.2M1438.0 400.0L1434.5 389.4M1438.0 400.0L1442.1 389.6M1438.0 400.0L1447.8 394.7" stroke="#e6e8d5" stroke-width="3.60" fill="none"/>
<circle cx="1438" cy="400" r="1.2" fill="#555"/>
<circle cx="1405" cy="365" r="26" fill="#e6e8d5" stroke="#505050" stroke-width="1.3"/>
<path d="M1430.0 372.1L1428.7 375.7L1418.3 373.2ZM1421.1 385.4L1417.9 387.6L1411.0 379.4ZM1406.0 391.0L1402.1 390.8L1401.4 380.2ZM1390.6 386.6L1387.5 384.2L1393.1 375.1ZM1380.6 374.0L1379.5 370.2L1389.4 366.2ZM1380.0 357.9L1381.3 354.3L1391.7 356.8ZM1388.9 344.6L1392.1 342.4L1399.0 350.6ZM1404.0 339.0L1407.9 339.2L1408.6 349.8ZM1419.4 343.4L1422.5 345.8L1416.9 354.9ZM1429.4 356.0L1430.5 359.8L1420.6 363.8Z" fill="#3f4035" stroke="none"/>
<circle cx="1405" cy="365" r="2.1" fill="#333"/>
<circle cx="1301" cy="365" r="11.5" fill="#9c9b98" stroke="#666" stroke-width="1"/>
<circle cx="1301" cy="365" r="6.9" fill="#e6e8d5"/>
<path d="M1308.9 360.8A9.0 9.0 0 0 1 1308.9 369.2M1305.2 372.9A9.0 9.0 0 0 1 1296.8 372.9M1293.1 369.2A9.0 9.0 0 0 1 1293.1 360.8M1296.8 357.1A9.0 9.0 0 0 1 1305.2 357.1" fill="none" stroke="#1a1a1a" stroke-width="2.4"/>
<circle cx="1301" cy="365" r="1.2" fill="#555"/>
<circle cx="1340" cy="365" r="11.5" fill="#9c9b98" stroke="#666" stroke-width="1"/>
<circle cx="1340" cy="365" r="6.9" fill="#e6e8d5"/>
<path d="M1347.9 360.8A9.0 9.0 0 0 1 1347.9 369.2M1344.2 372.9A9.0 9.0 0 0 1 1335.8 372.9M1332.1 369.2A9.0 9.0 0 0 1 1332.1 360.8M1335.8 357.1A9.0 9.0 0 0 1 1344.2 357.1" fill="none" stroke="#1a1a1a" stroke-width="2.4"/>
<circle cx="1340" cy="365" r="1.2" fill="#555"/>
<circle cx="1470" cy="365" r="11.5" fill="#9c9b98" stroke="#666" stroke-width="1"/>
<circle cx="1470" cy="365" r="6.9" fill="#e6e8d5"/>
<path d="M1477.9 360.8A9.0 9.0 0 0 1 1477.9 369.2M1474.2 372.9A9.0 9.0 0 0 1 1465.8 372.9M1462.1 369.2A9.0 9.0 0 0 1 1462.1 360.8M1465.8 357.1A9.0 9.0 0 0 1 1474.2 357.1" fill="none" stroke="#1a1a1a" stroke-width="2.4"/>
<circle cx="1470" cy="365" r="1.2" fill="#555"/>
<circle cx="1287" cy="446" r="9" fill="#3b3c32"/>
<circle cx="1287" cy="446" r="5.4" fill="#e6e8d5"/>
<path d="M1287.0 446.0L1295.2 447.7M1287.0 446.0L1292.2 452.5M1287.0 446.0L1286.8 454.4M1287.0 446.0L1281.5 452.3M1287.0 446.0L1278.7 447.2M1287.0 446.0L1279.9 441.6M1287.0 446.0L1284.3 438.1M1287.0 446.0L1290.1 438.2M1287.0 446.0L1294.4 442.0" stroke="#e6e8d5" stroke-width="2.70" fill="none"/>
<circle cx="1287" cy="446" r="0.9" fill="#555"/>
<circle cx="1318" cy="446" r="9" fill="#3b3c32"/>
<circle cx="1318" cy="446" r="5.4" fill="#e6e8d5"/>
<path d="M1318.0 446.0L1326.2 447.7M1318.0 446.0L1323.2 452.5M1318.0 446.0L1317.8 454.4M1318.0 446.0L1312.5 452.3M1318.0 446.0L1309.7 447.2M1318.0 446.0L1310.9 441.6M1318.0 446.0L1315.3 438.1M1318.0 446.0L1321.1 438.2M1318.0 446.0L1325.4 442.0" stroke="#e6e8d5" stroke-width="2.70" fill="none"/>
<circle cx="1318" cy="446" r="0.9" fill="#555"/>
<circle cx="1357" cy="446" r="9" fill="#3b3c32"/>
<circle cx="1357" cy="446" r="5.4" fill="#e6e8d5"/>
<path d="M1357.0 446.0L1365.2 447.7M1357.0 446.0L1362.2 452.5M1357.0 446.0L1356.8 454.4M1357.0 446.0L1351.5 452.3M1357.0 446.0L1348.7 447.2M1357.0 446.0L1349.9 441.6M1357.0 446.0L1354.3 438.1M1357.0 446.0L1360.1 438.2M1357.0 446.0L1364.4 442.0" stroke="#e6e8d5" stroke-width="2.70" fill="none"/>
<circle cx="1357" cy="446" r="0.9" fill="#555"/>
<circle cx="1403" cy="446" r="9" fill="#3b3c32"/>
<circle cx="1403" cy="446" r="5.4" fill="#e6e8d5"/>
<path d="M1403.0 446.0L1411.2 447.7M1403.0 446.0L1408.2 452.5M1403.0 446.0L1402.8 454.4M1403.0 446.0L1397.5 452.3M1403.0 446.0L1394.7 447.2M1403.0 446.0L1395.9 441.6M1403.0 446.0L1400.3 438.1M1403.0 446.0L1406.1 438.2M1403.0 446.0L1410.4 442.0" stroke="#e6e8d5" stroke-width="2.70" fill="none"/>
<circle cx="1403" cy="446" r="0.9" fill="#555"/>
<circle cx="1450" cy="446" r="9" fill="#3b3c32"/>
<circle cx="1450" cy="446" r="5.4" fill="#e6e8d5"/>
<path d="M1450.0 446.0L1458.2 447.7M1450.0 446.0L1455.2 452.5M1450.0 446.0L1449.8 454.4M1450.0 446.0L1444.5 452.3M1450.0 446.0L1441.7 447.2M1450.0 446.0L1442.9 441.6M1450.0 446.0L1447.3 438.1M1450.0 446.0L1453.1 438.2M1450.0 446.0L1457.4 442.0" stroke="#e6e8d5" stroke-width="2.70" fill="none"/>
<circle cx="1450" cy="446" r="0.9" fill="#555"/>
<circle cx="1490" cy="446" r="9" fill="#3b3c32"/>
<circle cx="1490" cy="446" r="5.4" fill="#e6e8d5"/>
<path d="M1490.0 446.0L1498.2 447.7M1490.0 446.0L1495.2 452.5M1490.0 446.0L1489.8 454.4M1490.0 446.0L1484.5 452.3M1490.0 446.0L1481.7 447.2M1490.0 446.0L1482.9 441.6M1490.0 446.0L1487.3 438.1M1490.0 446.0L1493.1 438.2M1490.0 446.0L1497.4 442.0" stroke="#e6e8d5" stroke-width="2.70" fill="none"/>
<circle cx="1490" cy="446" r="0.9" fill="#555"/>
<circle cx="1522" cy="446" r="9" fill="#3b3c32"/>
<circle cx="1522" cy="446" r="5.4" fill="#e6e8d5"/>
<path d="M1522.0 446.0L1530.2 447.7M1522.0 446.0L1527.2 452.5M1522.0 446.0L1521.8 454.4M1522.0 446.0L1516.5 452.3M1522.0 446.0L1513.7 447.2M1522.0 446.0L1514.9 441.6M1522.0 446.0L1519.3 438.1M1522.0 446.0L1525.1 438.2M1522.0 446.0L1529.4 442.0" stroke="#e6e8d5" stroke-width="2.70" fill="none"/>
<circle cx="1522" cy="446" r="0.9" fill="#555"/>
<circle cx="1301" cy="474" r="12" fill="#3b3c32"/>
<circle cx="1301" cy="474" r="7.2" fill="#e6e8d5"/>
<path d="M1301.0 474.0L1311.9 476.2M1301.0 474.0L1308.0 482.7M1301.0 474.0L1300.7 485.2M1301.0 474.0L1293.6 482.4M1301.0 474.0L1290.0 475.7M1301.0 474.0L1291.5 468.2M1301.0 474.0L1297.5 463.4M1301.0 474.0L1305.1 463.6M1301.0 474.0L1310.8 468.7" stroke="#e6e8d5" stroke-width="3.60" fill="none"/>
<circle cx="1301" cy="474" r="1.2" fill="#555"/>
<circle cx="1339" cy="474" r="12" fill="#3b3c32"/>
<circle cx="1339" cy="474" r="7.2" fill="#e6e8d5"/>
<path d="M1339.0 474.0L1349.9 476.2M1339.0 474.0L1346.0 482.7M1339.0 474.0L1338.7 485.2M1339.0 474.0L1331.6 482.4M1339.0 474.0L1328.0 475.7M1339.0 474.0L1329.5 468.2M1339.0 474.0L1335.5 463.4M1339.0 474.0L1343.1 463.6M1339.0 474.0L1348.8 468.7" stroke="#e6e8d5" stroke-width="3.60" fill="none"/>
<circle cx="1339" cy="474" r="1.2" fill="#555"/>
<circle cx="1385" cy="474" r="12" fill="#3b3c32"/>
<circle cx="1385" cy="474" r="7.2" fill="#e6e8d5"/>
<path d="M1385.0 474.0L1395.9 476.2M1385.0 474.0L1392.0 482.7M1385.0 474.0L1384.7 485.2M1385.0 474.0L1377.6 482.4M1385.0 474.0L1374.0 475.7M1385.0 474.0L1375.5 468.2M1385.0 474.0L1381.5 463.4M1385.0 474.0L1389.1 463.6M1385.0 474.0L1394.8 468.7" stroke="#e6e8d5" stroke-width="3.60" fill="none"/>
<circle cx="1385" cy="474" r="1.2" fill="#555"/>
<circle cx="1423" cy="474" r="12" fill="#3b3c32"/>
<circle cx="1423" cy="474" r="7.2" fill="#e6e8d5"/>
<path d="M1423.0 474.0L1433.9 476.2M1423.0 474.0L1430.0 482.7M1423.0 474.0L1422.7 485.2M1423.0 474.0L1415.6 482.4M1423.0 474.0L1412.0 475.7M1423.0 474.0L1413.5 468.2M1423.0 474.0L1419.5 463.4M1423.0 474.0L1427.1 463.6M1423.0 474.0L1432.8 468.7" stroke="#e6e8d5" stroke-width="3.60" fill="none"/>
<circle cx="1423" cy="474" r="1.2" fill="#555"/>
<circle cx="1468" cy="474" r="12" fill="#3b3c32"/>
<circle cx="1468" cy="474" r="7.2" fill="#e6e8d5"/>
<path d="M1468.0 474.0L1478.9 476.2M1468.0 474.0L1475.0 482.7M1468.0 474.0L1467.7 485.2M1468.0 474.0L1460.6 482.4M1468.0 474.0L1457.0 475.7M1468.0 474.0L1458.5 468.2M1468.0 474.0L1464.5 463.4M1468.0 474.0L1472.1 463.6M1468.0 474.0L1477.8 468.7" stroke="#e6e8d5" stroke-width="3.60" fill="none"/>
<circle cx="1468" cy="474" r="1.2" fill="#555"/>
<circle cx="1507" cy="474" r="12" fill="#3b3c32"/>
<circle cx="1507" cy="474" r="7.2" fill="#e6e8d5"/>
<path d="M1507.0 474.0L1517.9 476.2M1507.0 474.0L1514.0 482.7M1507.0 474.0L1506.7 485.2M1507.0 474.0L1499.6 482.4M1507.0 474.0L1496.0 475.7M1507.0 474.0L1497.5 468.2M1507.0 474.0L1503.5 463.4M1507.0 474.0L1511.1 463.6M1507.0 474.0L1516.8 468.7" stroke="#e6e8d5" stroke-width="3.60" fill="none"/>
<circle cx="1507" cy="474" r="1.2" fill="#555"/>
<path d="M1534 314 L1501 314 Q1495 314 1495 320 L1495 328 Q1495 334 1501 334 L1534 334 Z" fill="#d9dcb9" stroke="#4a4a42" stroke-width="1.1" />
<path d="M1534 395 L1501 395 Q1495 395 1495 401 L1495 409 Q1495 415 1501 415 L1534 415 Z" fill="#d9dcb9" stroke="#4a4a42" stroke-width="1.1" />
<circle cx="1516" cy="323" r="11" fill="#3b3c32"/>
<circle cx="1516" cy="323" r="6.6" fill="#e6e8d5"/>
<path d="M1516.0 323.0L1526.0 325.0M1516.0 323.0L1522.4 331.0M1516.0 323.0L1515.7 333.2M1516.0 323.0L1509.2 330.7M1516.0 323.0L1505.9 324.5M1516.0 323.0L1507.3 317.7M1516.0 323.0L1512.7 313.3M1516.0 323.0L1519.7 313.5M1516.0 323.0L1525.0 318.1" stroke="#e6e8d5" stroke-width="3.30" fill="none"/>
<circle cx="1516" cy="323" r="1.1" fill="#555"/>
<circle cx="1517" cy="404" r="11" fill="#3b3c32"/>
<circle cx="1517" cy="404" r="6.6" fill="#e6e8d5"/>
<path d="M1517.0 404.0L1527.0 406.0M1517.0 404.0L1523.4 412.0M1517.0 404.0L1516.7 414.2M1517.0 404.0L1510.2 411.7M1517.0 404.0L1506.9 405.5M1517.0 404.0L1508.3 398.7M1517.0 404.0L1513.7 394.3M1517.0 404.0L1520.7 394.5M1517.0 404.0L1526.0 399.1" stroke="#e6e8d5" stroke-width="3.30" fill="none"/>
<circle cx="1517" cy="404" r="1.1" fill="#555"/>
<circle cx="1507" cy="364" r="11.5" fill="#9c9b98" stroke="#666" stroke-width="1"/>
<circle cx="1507" cy="364" r="6.9" fill="#e6e8d5"/>
<path d="M1514.9 359.8A9.0 9.0 0 0 1 1514.9 368.2M1511.2 371.9A9.0 9.0 0 0 1 1502.8 371.9M1499.1 368.2A9.0 9.0 0 0 1 1499.1 359.8M1502.8 356.1A9.0 9.0 0 0 1 1511.2 356.1" fill="none" stroke="#1a1a1a" stroke-width="2.4"/>
<circle cx="1507" cy="364" r="1.2" fill="#555"/>
<rect x="464" y="264" width="23" height="23" fill="#fff" stroke="#555" stroke-width="1" />
<rect x="464" y="320" width="23" height="20" fill="#fff" stroke="#555" stroke-width="1" />
<rect x="464" y="390" width="23" height="20" fill="#fff" stroke="#555" stroke-width="1" />
<rect x="1251" y="264" width="23" height="23" fill="#fff" stroke="#555" stroke-width="1" />
<rect x="1251" y="320" width="23" height="20" fill="#fff" stroke="#555" stroke-width="1" />
<rect x="1251" y="390" width="23" height="20" fill="#fff" stroke="#555" stroke-width="1" />
<rect x="1534" y="264" width="23" height="23" fill="#fff" stroke="#555" stroke-width="1" />
<rect x="1534" y="320" width="23" height="20" fill="#fff" stroke="#555" stroke-width="1" />
<rect x="1534" y="390" width="23" height="20" fill="#fff" stroke="#555" stroke-width="1" />
<line x1="487" y1="264" x2="487" y2="855" stroke="#333" stroke-width="1.3" stroke-dasharray="10 5"/>
<line x1="1534" y1="264" x2="1534" y2="441" stroke="#333" stroke-width="1.3" stroke-dasharray="10 5"/>
<line x1="1534" y1="459" x2="1572" y2="459" stroke="#444" stroke-width="1.3" stroke-dasharray="10 6"/>
<rect x="176" y="453" width="90" height="75" fill="#87868a" stroke="#333" stroke-width="1" />
<rect x="181" y="458" width="80" height="66" fill="#d6d5da" stroke="none" stroke-width="1" />
<rect x="196" y="459" width="36" height="31" fill="#d6d5da" stroke="#333" stroke-width="0.8" />
<path d="M199.6 460L199.6 489M203.2 460L203.2 489M206.8 460L206.8 489M210.4 460L210.4 489M214.0 460L214.0 489M217.6 460L217.6 489M221.2 460L221.2 489M224.8 460L224.8 489M228.4 460L228.4 489" fill="none" stroke="#444" stroke-width="0.9" />
<line x1="196" y1="474.5" x2="232" y2="474.5" stroke="#333" stroke-width="1.2" />
<ellipse cx="190" cy="474" rx="9" ry="14" fill="#d6d5da" stroke="#777" stroke-width="1"/>
<ellipse cx="240" cy="474" rx="9" ry="14" fill="#d6d5da" stroke="#777" stroke-width="1"/>
<rect x="181" y="490" width="80" height="6" fill="#87868a" stroke="none" stroke-width="1" />
<rect x="185" y="497" width="27" height="22" fill="#fff" stroke="#111" stroke-width="2" />
<rect x="219" y="497" width="28" height="22" fill="#fff" stroke="#111" stroke-width="2" />
<rect x="181" y="519" width="80" height="5" fill="#87868a" stroke="none" stroke-width="1" />
<rect x="176" y="528" width="90" height="25" fill="#fffaa8" stroke="none" stroke-width="1" />
<line x1="179" y1="528" x2="179" y2="553" stroke="#333" stroke-width="1" stroke-dasharray="4 3"/>
<line x1="263" y1="528" x2="263" y2="553" stroke="#333" stroke-width="1" stroke-dasharray="4 3"/>
<rect x="176" y="553" width="90" height="111" fill="#87868a" stroke="#333" stroke-width="1" />
<rect x="181" y="558" width="80" height="101" fill="#d6d5da" stroke="none" stroke-width="1" />
<rect x="181" y="558" width="10" height="32" fill="#d6d5da" stroke="#333" stroke-width="1" />
<circle cx="186" cy="566" r="3.5" fill="none" stroke="#333" stroke-width="1"/>
<circle cx="186" cy="577" r="3.5" fill="none" stroke="#333" stroke-width="1"/>
<circle cx="186" cy="586" r="3.5" fill="none" stroke="#333" stroke-width="1"/>
<circle cx="204" cy="572" r="10" fill="#d6d5da" stroke="#888" stroke-width="1"/>
<rect x="220" y="558" width="31" height="32" fill="#87868a" stroke="none" stroke-width="1" />
<rect x="225" y="561" width="21" height="27" fill="#fff" stroke="#111" stroke-width="2" />
<line x1="235" y1="561" x2="235" y2="588" stroke="#111" stroke-width="1.5" />
<rect x="181" y="590" width="25" height="32" fill="#d6d5da" stroke="#444" stroke-width="1" />
<rect x="196" y="627" width="36" height="30" fill="#d6d5da" stroke="#333" stroke-width="0.8" />
<path d="M199.6 628L199.6 656M203.2 628L203.2 656M206.8 628L206.8 656M210.4 628L210.4 656M214.0 628L214.0 656M217.6 628L217.6 656M221.2 628L221.2 656M224.8 628L224.8 656M228.4 628L228.4 656" fill="none" stroke="#444" stroke-width="0.9" />
<line x1="196" y1="642.0" x2="232" y2="642.0" stroke="#333" stroke-width="1.2" />
<ellipse cx="190" cy="642" rx="9" ry="13" fill="#d6d5da" stroke="#777" stroke-width="1"/>
<ellipse cx="240" cy="642" rx="9" ry="13" fill="#d6d5da" stroke="#777" stroke-width="1"/>
<rect x="181" y="622" width="51" height="4" fill="#87868a" stroke="none" stroke-width="1" />
<rect x="1572" y="453" width="90" height="75" fill="#87868a" stroke="#333" stroke-width="1" />
<rect x="1577" y="458" width="80" height="66" fill="#d6d5da" stroke="none" stroke-width="1" />
<rect x="1592" y="459" width="36" height="31" fill="#d6d5da" stroke="#333" stroke-width="0.8" />
<path d="M1595.6 460L1595.6 489M1599.2 460L1599.2 489M1602.8 460L1602.8 489M1606.4 460L1606.4 489M1610.0 460L1610.0 489M1613.6 460L1613.6 489M1617.2 460L1617.2 489M1620.8 460L1620.8 489M1624.4 460L1624.4 489" fill="none" stroke="#444" stroke-width="0.9" />
<line x1="1592" y1="474.5" x2="1628" y2="474.5" stroke="#333" stroke-width="1.2" />
<ellipse cx="1586" cy="474" rx="9" ry="14" fill="#d6d5da" stroke="#777" stroke-width="1"/>
<ellipse cx="1636" cy="474" rx="9" ry="14" fill="#d6d5da" stroke="#777" stroke-width="1"/>
<rect x="1577" y="490" width="80" height="6" fill="#87868a" stroke="none" stroke-width="1" />
<rect x="1581" y="497" width="27" height="22" fill="#fff" stroke="#111" stroke-width="2" />
<rect x="1615" y="497" width="28" height="22" fill="#fff" stroke="#111" stroke-width="2" />
<rect x="1577" y="519" width="80" height="5" fill="#87868a" stroke="none" stroke-width="1" />
<rect x="1572" y="528" width="90" height="25" fill="#fffaa8" stroke="none" stroke-width="1" />
<line x1="1575" y1="528" x2="1575" y2="553" stroke="#333" stroke-width="1" stroke-dasharray="4 3"/>
<line x1="1659" y1="528" x2="1659" y2="553" stroke="#333" stroke-width="1" stroke-dasharray="4 3"/>
<rect x="1572" y="553" width="90" height="111" fill="#87868a" stroke="#333" stroke-width="1" />
<rect x="1577" y="558" width="80" height="101" fill="#d6d5da" stroke="none" stroke-width="1" />
<rect x="1577" y="558" width="10" height="32" fill="#d6d5da" stroke="#333" stroke-width="1" />
<circle cx="1582" cy="566" r="3.5" fill="none" stroke="#333" stroke-width="1"/>
<circle cx="1582" cy="577" r="3.5" fill="none" stroke="#333" stroke-width="1"/>
<circle cx="1582" cy="586" r="3.5" fill="none" stroke="#333" stroke-width="1"/>
<circle cx="1600" cy="572" r="10" fill="#d6d5da" stroke="#888" stroke-width="1"/>
<rect x="1616" y="558" width="31" height="32" fill="#87868a" stroke="none" stroke-width="1" />
<rect x="1621" y="561" width="21" height="27" fill="#fff" stroke="#111" stroke-width="2" />
<line x1="1631" y1="561" x2="1631" y2="588" stroke="#111" stroke-width="1.5" />
<rect x="1577" y="590" width="25" height="32" fill="#d6d5da" stroke="#444" stroke-width="1" />
<rect x="1592" y="627" width="36" height="30" fill="#d6d5da" stroke="#333" stroke-width="0.8" />
<path d="M1595.6 628L1595.6 656M1599.2 628L1599.2 656M1602.8 628L1602.8 656M1606.4 628L1606.4 656M1610.0 628L1610.0 656M1613.6 628L1613.6 656M1617.2 628L1617.2 656M1620.8 628L1620.8 656M1624.4 628L1624.4 656" fill="none" stroke="#444" stroke-width="0.9" />
<line x1="1592" y1="642.0" x2="1628" y2="642.0" stroke="#333" stroke-width="1.2" />
<ellipse cx="1586" cy="642" rx="9" ry="13" fill="#d6d5da" stroke="#777" stroke-width="1"/>
<ellipse cx="1636" cy="642" rx="9" ry="13" fill="#d6d5da" stroke="#777" stroke-width="1"/>
<rect x="1577" y="622" width="51" height="4" fill="#87868a" stroke="none" stroke-width="1" />
<rect x="1572" y="626" width="92" height="39" fill="#87868a" stroke="#333" stroke-width="1" />
<rect x="1577" y="631" width="82" height="29" fill="#d6d5da" stroke="none" stroke-width="1" />
<path d="M1586 626 L1586 612 M1636 626 L1636 612" fill="none" stroke="#222" stroke-width="1.5" />
<path d="M1622 626 Q1624 614 1632 612 M1640 626 Q1638 614 1632 612 M1624 665 Q1626 653 1633 651 M1642 665 Q1640 653 1633 651" fill="none" stroke="#444" stroke-width="1" />
<path d="M1572 634 Q1560 636 1558 645 M1572 656 Q1560 654 1558 645" fill="none" stroke="#444" stroke-width="1" />
<rect x="1659" y="631" width="5" height="29" fill="#d6d5da" stroke="none" stroke-width="1" />
<rect x="895" y="442" width="113" height="95" fill="#87868a" stroke="#222" stroke-width="1.5" />
<rect x="901" y="448" width="101" height="83" fill="#d6d5da" stroke="none" stroke-width="1" />
<rect x="901" y="448" width="47" height="52" fill="#87868a" stroke="none" stroke-width="1" />
<rect x="904" y="452" width="40" height="18" fill="#d6d5da" stroke="#333" stroke-width="1" />
<rect x="906" y="474" width="36" height="23" fill="#fff" stroke="#111" stroke-width="2" />
<line x1="907" y1="486" x2="941" y2="486" stroke="#111" stroke-width="2" />
<rect x="901" y="505" width="12" height="26" fill="#d6d5da" stroke="#333" stroke-width="1" />
<circle cx="907" cy="510" r="3.5" fill="none" stroke="#333" stroke-width="1"/>
<circle cx="907" cy="519" r="3.5" fill="none" stroke="#333" stroke-width="1"/>
<rect x="945" y="442" width="25" height="6" fill="#d6d5da" stroke="none" stroke-width="1" />
<path d="M948 448 Q955 455 958 448 M968 448 Q961 455 958 448" fill="none" stroke="#555" stroke-width="1" />
<rect x="973" y="478" width="29" height="53" fill="#d6d5da" stroke="#333" stroke-width="0.8" />
<path d="M974 481.8L1001 481.8M974 485.6L1001 485.6M974 489.4L1001 489.4M974 493.1L1001 493.1M974 496.9L1001 496.9M974 500.7L1001 500.7M974 504.5L1001 504.5M974 508.3L1001 508.3M974 512.1L1001 512.1M974 515.9L1001 515.9M974 519.6L1001 519.6M974 523.4L1001 523.4M974 527.2L1001 527.2" fill="none" stroke="#444" stroke-width="0.9" />
<line x1="987.5" y1="478" x2="987.5" y2="531" stroke="#333" stroke-width="1.2" />
<ellipse cx="987" cy="470" rx="13" ry="9" fill="#d6d5da" stroke="#777" stroke-width="1"/>
<rect x="928" y="531" width="22" height="6" fill="#d6d5da" stroke="none" stroke-width="1" />
<rect x="1033" y="442" width="74" height="95" fill="#87868a" stroke="#222" stroke-width="1.5" />
<rect x="1039" y="448" width="62" height="83" fill="#d6d5da" stroke="none" stroke-width="1" />
<rect x="1040" y="460" width="20" height="26" fill="#fff" stroke="#111" stroke-width="2" />
<rect x="1040" y="493" width="20" height="27" fill="#fff" stroke="#111" stroke-width="2" />
<rect x="1070" y="478" width="30" height="52" fill="#d6d5da" stroke="#333" stroke-width="0.8" />
<path d="M1071 481.7L1099 481.7M1071 485.4L1099 485.4M1071 489.1L1099 489.1M1071 492.9L1099 492.9M1071 496.6L1099 496.6M1071 500.3L1099 500.3M1071 504.0L1099 504.0M1071 507.7L1099 507.7M1071 511.4L1099 511.4M1071 515.1L1099 515.1M1071 518.9L1099 518.9M1071 522.6L1099 522.6M1071 526.3L1099 526.3" fill="none" stroke="#444" stroke-width="0.9" />
<line x1="1085.0" y1="478" x2="1085.0" y2="530" stroke="#333" stroke-width="1.2" />
<ellipse cx="1085" cy="470" rx="13" ry="9" fill="#d6d5da" stroke="#777" stroke-width="1"/>
<path d="M1082 442 L1082 432 Q1092 434 1093 445" fill="none" stroke="#222" stroke-width="1.5" />
<line x1="1008" y1="444" x2="1033" y2="444" stroke="#77752a" stroke-width="2" stroke-dasharray="6 3"/>
<line x1="1008" y1="449" x2="1033" y2="449" stroke="#77752a" stroke-width="2" stroke-dasharray="6 3"/>
<line x1="1008" y1="529" x2="1033" y2="529" stroke="#77752a" stroke-width="2" stroke-dasharray="6 3"/>
<line x1="1008" y1="534" x2="1033" y2="534" stroke="#77752a" stroke-width="2" stroke-dasharray="6 3"/>
<rect x="966" y="537" width="38" height="73" fill="#87868a" stroke="#333" stroke-width="1" />
<rect x="970" y="545" width="30" height="45" fill="#d6d5da" stroke="#333" stroke-width="0.8" />
<path d="M971 548.8L999 548.8M971 552.5L999 552.5M971 556.2L999 556.2M971 560.0L999 560.0M971 563.8L999 563.8M971 567.5L999 567.5M971 571.2L999 571.2M971 575.0L999 575.0M971 578.8L999 578.8M971 582.5L999 582.5M971 586.2L999 586.2" fill="none" stroke="#444" stroke-width="0.9" />
<line x1="985.0" y1="545" x2="985.0" y2="590" stroke="#333" stroke-width="1.2" />
<ellipse cx="985" cy="597" rx="13" ry="8" fill="#d6d5da" stroke="#777" stroke-width="1"/>
<path d="M1003 537 L1003 590 L1040 590 L1040 537" fill="none" stroke="#555" stroke-width="1" />
<rect x="1188" y="452" width="76" height="12" fill="#fbf8dc" stroke="#222" stroke-width="1.3" />
<path d="M1192.0 452L1192.0 464M1196.0 452L1196.0 464M1200.0 452L1200.0 464M1204.0 452L1204.0 464M1208.0 452L1208.0 464M1212.0 452L1212.0 464M1216.0 452L1216.0 464M1220.0 452L1220.0 464M1224.0 452L1224.0 464M1228.0 452L1228.0 464M1232.0 452L1232.0 464M1236.0 452L1236.0 464M1240.0 452L1240.0 464M1244.0 452L1244.0 464M1248.0 452L1248.0 464M1252.0 452L1252.0 464M1256.0 452L1256.0 464M1260.0 452L1260.0 464" fill="none" stroke="#6f6a36" stroke-width="1.6" />
<rect x="1184" y="485" width="80" height="13" fill="#fbf8dc" stroke="#222" stroke-width="1.3" />
<path d="M1188.0 485L1188.0 498M1192.0 485L1192.0 498M1196.0 485L1196.0 498M1200.0 485L1200.0 498M1204.0 485L1204.0 498M1208.0 485L1208.0 498M1212.0 485L1212.0 498M1216.0 485L1216.0 498M1220.0 485L1220.0 498M1224.0 485L1224.0 498M1228.0 485L1228.0 498M1232.0 485L1232.0 498M1236.0 485L1236.0 498M1240.0 485L1240.0 498M1244.0 485L1244.0 498M1248.0 485L1248.0 498M1252.0 485L1252.0 498M1256.0 485L1256.0 498M1260.0 485L1260.0 498" fill="none" stroke="#6f6a36" stroke-width="1.6" />
<rect x="171" y="680" width="14" height="146" fill="#fbf3a6" stroke="#222" stroke-width="1.3" />
<path d="M171 685.0L185 685.0M171 690.1L185 690.1M171 695.1L185 695.1M171 700.1L185 700.1M171 705.2L185 705.2M171 710.2L185 710.2M171 715.2L185 715.2M171 720.3L185 720.3M171 725.3L185 725.3M171 730.3L185 730.3M171 735.4L185 735.4M171 740.4L185 740.4M171 745.4L185 745.4M171 750.5L185 750.5M171 755.5L185 755.5M171 760.6L185 760.6M171 765.6L185 765.6M171 770.6L185 770.6M171 775.7L185 775.7M171 780.7L185 780.7M171 785.7L185 785.7M171 790.8L185 790.8M171 795.8L185 795.8M171 800.8L185 800.8M171 805.9L185 805.9M171 810.9L185 810.9M171 815.9L185 815.9M171 821.0L185 821.0" fill="none" stroke="#6f6a36" stroke-width="1.6" />
<rect x="204" y="680" width="12" height="146" fill="#fbf3a6" stroke="#222" stroke-width="1.3" />
<path d="M204 685.0L216 685.0M204 690.1L216 690.1M204 695.1L216 695.1M204 700.1L216 700.1M204 705.2L216 705.2M204 710.2L216 710.2M204 715.2L216 715.2M204 720.3L216 720.3M204 725.3L216 725.3M204 730.3L216 730.3M204 735.4L216 735.4M204 740.4L216 740.4M204 745.4L216 745.4M204 750.5L216 750.5M204 755.5L216 755.5M204 760.6L216 760.6M204 765.6L216 765.6M204 770.6L216 770.6M204 775.7L216 775.7M204 780.7L216 780.7M204 785.7L216 785.7M204 790.8L216 790.8M204 795.8L216 795.8M204 800.8L216 800.8M204 805.9L216 805.9M204 810.9L216 810.9M204 815.9L216 815.9M204 821.0L216 821.0" fill="none" stroke="#6f6a36" stroke-width="1.6" />
<rect x="1830" y="578" width="12" height="267" fill="#fbf3a6" stroke="#222" stroke-width="1.3" />
<path d="M1830 583.0L1842 583.0M1830 588.1L1842 588.1M1830 593.1L1842 593.1M1830 598.2L1842 598.2M1830 603.2L1842 603.2M1830 608.2L1842 608.2M1830 613.3L1842 613.3M1830 618.3L1842 618.3M1830 623.3L1842 623.3M1830 628.4L1842 628.4M1830 633.4L1842 633.4M1830 638.5L1842 638.5M1830 643.5L1842 643.5M1830 648.5L1842 648.5M1830 653.6L1842 653.6M1830 658.6L1842 658.6M1830 663.6L1842 663.6M1830 668.7L1842 668.7M1830 673.7L1842 673.7M1830 678.8L1842 678.8M1830 683.8L1842 683.8M1830 688.8L1842 688.8M1830 693.9L1842 693.9M1830 698.9L1842 698.9M1830 703.9L1842 703.9M1830 709.0L1842 709.0M1830 714.0L1842 714.0M1830 719.1L1842 719.1M1830 724.1L1842 724.1M1830 729.1L1842 729.1M1830 734.2L1842 734.2M1830 739.2L1842 739.2M1830 744.2L1842 744.2M1830 749.3L1842 749.3M1830 754.3L1842 754.3M1830 759.4L1842 759.4M1830 764.4L1842 764.4M1830 769.4L1842 769.4M1830 774.5L1842 774.5M1830 779.5L1842 779.5M1830 784.5L1842 784.5M1830 789.6L1842 789.6M1830 794.6L1842 794.6M1830 799.7L1842 799.7M1830 804.7L1842 804.7M1830 809.7L1842 809.7M1830 814.8L1842 814.8M1830 819.8L1842 819.8M1830 824.8L1842 824.8M1830 829.9L1842 829.9M1830 834.9L1842 834.9M1830 840.0L1842 840.0" fill="none" stroke="#6f6a36" stroke-width="1.6" />
<rect x="139" y="459" width="31" height="198" fill="#d9dcb9" stroke="#555" stroke-width="1" />
<circle cx="153" cy="475" r="11" fill="#3b3c32"/>
<circle cx="153" cy="475" r="6.6" fill="#e6e8d5"/>
<path d="M153.0 475.0L163.0 477.0M153.0 475.0L159.4 483.0M153.0 475.0L152.7 485.2M153.0 475.0L146.2 482.7M153.0 475.0L142.9 476.5M153.0 475.0L144.3 469.7M153.0 475.0L149.7 465.3M153.0 475.0L156.7 465.5M153.0 475.0L162.0 470.1" stroke="#e6e8d5" stroke-width="3.30" fill="none"/>
<circle cx="153" cy="475" r="1.1" fill="#555"/>
<circle cx="156" cy="496" r="9" fill="#3b3c32"/>
<circle cx="156" cy="496" r="5.4" fill="#e6e8d5"/>
<path d="M156.0 496.0L164.2 497.7M156.0 496.0L161.2 502.5M156.0 496.0L155.8 504.4M156.0 496.0L150.5 502.3M156.0 496.0L147.7 497.2M156.0 496.0L148.9 491.6M156.0 496.0L153.3 488.1M156.0 496.0L159.1 488.2M156.0 496.0L163.4 492.0" stroke="#e6e8d5" stroke-width="2.70" fill="none"/>
<circle cx="156" cy="496" r="0.9" fill="#555"/>
<circle cx="158" cy="514" r="7" fill="#3b3c32"/>
<circle cx="158" cy="514" r="4.2" fill="#e6e8d5"/>
<path d="M158.0 514.0L164.4 515.3M158.0 514.0L162.1 519.1M158.0 514.0L157.8 520.5M158.0 514.0L153.7 518.9M158.0 514.0L151.6 515.0M158.0 514.0L152.4 510.6M158.0 514.0L155.9 507.8M158.0 514.0L160.4 507.9M158.0 514.0L163.7 510.9" stroke="#e6e8d5" stroke-width="2.10" fill="none"/>
<circle cx="158" cy="514" r="0.8" fill="#555"/>
<circle cx="160" cy="607" r="7" fill="#3b3c32"/>
<circle cx="160" cy="607" r="4.2" fill="#e6e8d5"/>
<path d="M160.0 607.0L166.4 608.3M160.0 607.0L164.1 612.1M160.0 607.0L159.8 613.5M160.0 607.0L155.7 611.9M160.0 607.0L153.6 608.0M160.0 607.0L154.4 603.6M160.0 607.0L157.9 600.8M160.0 607.0L162.4 600.9M160.0 607.0L165.7 603.9" stroke="#e6e8d5" stroke-width="2.10" fill="none"/>
<circle cx="160" cy="607" r="0.8" fill="#555"/>
<circle cx="158" cy="625" r="9" fill="#3b3c32"/>
<circle cx="158" cy="625" r="5.4" fill="#e6e8d5"/>
<path d="M158.0 625.0L166.2 626.7M158.0 625.0L163.2 631.5M158.0 625.0L157.8 633.4M158.0 625.0L152.5 631.3M158.0 625.0L149.7 626.2M158.0 625.0L150.9 620.6M158.0 625.0L155.3 617.1M158.0 625.0L161.1 617.2M158.0 625.0L165.4 621.0" stroke="#e6e8d5" stroke-width="2.70" fill="none"/>
<circle cx="158" cy="625" r="0.9" fill="#555"/>
<circle cx="155" cy="645" r="11" fill="#3b3c32"/>
<circle cx="155" cy="645" r="6.6" fill="#e6e8d5"/>
<path d="M155.0 645.0L165.0 647.0M155.0 645.0L161.4 653.0M155.0 645.0L154.7 655.2M155.0 645.0L148.2 652.7M155.0 645.0L144.9 646.5M155.0 645.0L146.3 639.7M155.0 645.0L151.7 635.3M155.0 645.0L158.7 635.5M155.0 645.0L164.0 640.1" stroke="#e6e8d5" stroke-width="3.30" fill="none"/>
<circle cx="155" cy="645" r="1.1" fill="#555"/>
<path d="M485 645L561 645M485 505L485 645M522 505L522 645M561 505L561 645" fill="none" stroke="#3a3a3a" stroke-width="1.4" />
<path d="M567 645L683 645M567 505L567 645M607 505L607 645M645 505L645 645M683 505L683 645" fill="none" stroke="#3a3a3a" stroke-width="1.4" />
<path d="M689 645L729 645M689 505L689 645M729 505L729 645" fill="none" stroke="#3a3a3a" stroke-width="1.4" />
<path d="M481 575 L481 505 L729 505 M1104 505 L1446 505" fill="none" stroke="#3a3a3a" stroke-width="1.3" />
<path d="M729 645L805 645M729 575L729 645M767 575L767 645M805 575L805 645" fill="none" stroke="#3a3a3a" stroke-width="1.4" />
<path d="M818 645L855 645M818 575L818 645M855 575L855 645" fill="none" stroke="#3a3a3a" stroke-width="1.4" />
<path d="M729 575 L805 575 M818 575 L855 575" fill="none" stroke="#3a3a3a" stroke-width="1.4" />
<path d="M449 645L485 645M449 575L449 645M485 575L485 645" fill="none" stroke="#3a3a3a" stroke-width="1.4" />
<line x1="449" y1="575" x2="485" y2="575" stroke="#3a3a3a" stroke-width="1.4" />
<rect x="561" y="505" width="6" height="18" fill="#9b9a9e" stroke="#444" stroke-width="0.8" />
<rect x="561" y="617" width="6" height="28" fill="#9b9a9e" stroke="#444" stroke-width="0.8" />
<rect x="683" y="505" width="6" height="18" fill="#9b9a9e" stroke="#444" stroke-width="0.8" />
<rect x="683" y="617" width="6" height="28" fill="#9b9a9e" stroke="#444" stroke-width="0.8" />
<rect x="443" y="558" width="6" height="14" fill="#9b9a9e" stroke="#444" stroke-width="0.8" />
<rect x="443" y="616" width="6" height="16" fill="#9b9a9e" stroke="#444" stroke-width="0.8" />
<rect x="805" y="562" width="6" height="16" fill="#9b9a9e" stroke="#444" stroke-width="0.8" />
<rect x="806" y="617" width="6" height="26" fill="#9b9a9e" stroke="#444" stroke-width="0.8" />
<path d="M1125 645L1241 645M1125 505L1125 645M1164 505L1164 645M1202 505L1202 645M1241 505L1241 645" fill="none" stroke="#3a3a3a" stroke-width="1.4" />
<path d="M1248 645L1364 645M1248 505L1248 645M1286 505L1286 645M1325 505L1325 645M1364 505L1364 645" fill="none" stroke="#3a3a3a" stroke-width="1.4" />
<path d="M1370 645L1446 645M1370 505L1370 645M1408 505L1408 645M1446 505L1446 645" fill="none" stroke="#3a3a3a" stroke-width="1.4" />
<rect x="1241" y="505" width="6" height="18" fill="#9b9a9e" stroke="#444" stroke-width="0.8" />
<rect x="1241" y="617" width="6" height="28" fill="#9b9a9e" stroke="#444" stroke-width="0.8" />
<rect x="1364" y="505" width="6" height="18" fill="#9b9a9e" stroke="#444" stroke-width="0.8" />
<rect x="1364" y="617" width="6" height="28" fill="#9b9a9e" stroke="#444" stroke-width="0.8" />
<path d="M1041 645L1117 645M1041 575L1041 645M1080 575L1080 645M1117 575L1117 645" fill="none" stroke="#3a3a3a" stroke-width="1.4" />
<line x1="1041" y1="575" x2="1117" y2="575" stroke="#3a3a3a" stroke-width="1.4" />
<rect x="1117" y="617" width="7" height="26" fill="#9b9a9e" stroke="#444" stroke-width="0.8" />
<line x1="1098" y1="562" x2="1273" y2="562" stroke="#444" stroke-width="1.3" stroke-dasharray="9 6"/>
<line x1="1273" y1="505" x2="1273" y2="562" stroke="#444" stroke-width="1.3" stroke-dasharray="9 6"/>
<line x1="866" y1="562" x2="905" y2="562" stroke="#444" stroke-width="1.3" stroke-dasharray="9 6"/>
<line x1="905" y1="537" x2="905" y2="562" stroke="#444" stroke-width="1.3" stroke-dasharray="9 6"/>
<rect x="1446" y="505" width="54" height="162" fill="url(#hat)" stroke="#444" stroke-width="1.2" />
<rect x="970" y="593" width="70" height="52" fill="url(#hat)" stroke="#444" stroke-width="1.2" />
<rect x="375" y="556" width="22" height="70" fill="url(#hat2)" stroke="#444" stroke-width="1" />
<rect x="1478" y="708" width="69" height="21" fill="url(#hat)" stroke="#444" stroke-width="1" />
<path d="M336 626L375 626M336 556L336 626M375 556L375 626" fill="none" stroke="#3a3a3a" stroke-width="1.4" />
<path d="M397 626L437 626M397 556L397 626M437 556L437 626" fill="none" stroke="#3a3a3a" stroke-width="1.4" />
<path d="M336 626 L437 626" fill="none" stroke="#3a3a3a" stroke-width="1.4" />
<text x="356" y="597" font-family="Liberation Sans" font-size="15" fill="#222" text-anchor="middle" >ADA</text>
<text x="417" y="597" font-family="Liberation Sans" font-size="15" fill="#222" text-anchor="middle" >ADA</text>
<rect x="1478" y="669" width="69" height="37" fill="none" stroke="#3a3a3a" stroke-width="1.4" />
<rect x="1478" y="731" width="69" height="38" fill="none" stroke="#3a3a3a" stroke-width="1.4" />
<text x="1513" y="694" font-family="Liberation Sans" font-size="15" fill="#222" text-anchor="middle" >ADA</text>
<text x="1513" y="756" font-family="Liberation Sans" font-size="15" fill="#222" text-anchor="middle" >ADA</text>
<rect x="1478" y="775" width="69" height="37" fill="none" stroke="#3a3a3a" stroke-width="1.3" />
<rect x="1478" y="812" width="69" height="40" fill="none" stroke="#3a3a3a" stroke-width="1.3" />
<rect x="1478" y="852" width="62" height="35" fill="none" stroke="#3a3a3a" stroke-width="1.0" />
<rect x="1478" y="769" width="15" height="5" fill="#9b9a9e" stroke="#444" stroke-width="0.8" />
<path d="M420 799L454 799M420 728L420 799M454 728L454 799" fill="none" stroke="#3a3a3a" stroke-width="1.4" />
<path d="M460 799L565 799M460 728L460 799M495 728L495 799M530 728L530 799M565 728L565 799" fill="none" stroke="#3a3a3a" stroke-width="1.4" />
<path d="M574 799L679 799M574 728L574 799M610 728L610 799M645 728L645 799M679 728L679 799" fill="none" stroke="#3a3a3a" stroke-width="1.4" />
<path d="M686 868L763 868M686 728L686 868M724 728L724 868M763 728L763 868" fill="none" stroke="#3a3a3a" stroke-width="1.4" />
<line x1="686" y1="868" x2="763" y2="868" stroke="#3a3a3a" stroke-width="1.4" />
<line x1="686" y1="728" x2="763" y2="728" stroke="#3a3a3a" stroke-width="1.4" />
<path d="M420 728 L454 728 M460 728 L565 728 M574 728 L679 728" fill="none" stroke="#3a3a3a" stroke-width="1.4" />
<rect x="454" y="732" width="6" height="16" fill="#9b9a9e" stroke="#444" stroke-width="0.8" />
<rect x="565" y="732" width="6" height="16" fill="#9b9a9e" stroke="#444" stroke-width="0.8" />
<rect x="679" y="732" width="6" height="16" fill="#9b9a9e" stroke="#444" stroke-width="0.8" />
<rect x="763" y="732" width="7" height="16" fill="#9b9a9e" stroke="#444" stroke-width="0.8" />
<path d="M420 802 L686 802" fill="none" stroke="#3a3a3a" stroke-width="1.3" />
<path d="M420 799 L420 887 M458 802 L458 887" fill="none" stroke="#3a3a3a" stroke-width="1.3" />
<line x1="742" y1="803" x2="742" y2="887" stroke="#444" stroke-width="1.3" stroke-dasharray="9 6"/>
<line x1="686" y1="803" x2="742" y2="803" stroke="#444" stroke-width="1.3" stroke-dasharray="9 6"/>
<path d="M1091 799L1126 799M1091 728L1091 799M1126 728L1126 799" fill="none" stroke="#3a3a3a" stroke-width="1.4" />
<path d="M1133 799L1237 799M1133 728L1133 799M1167 728L1167 799M1202 728L1202 799M1237 728L1237 799" fill="none" stroke="#3a3a3a" stroke-width="1.4" />
<path d="M1244 799L1351 799M1244 728L1244 799M1278 728L1278 799M1313 728L1313 799M1351 728L1351 799" fill="none" stroke="#3a3a3a" stroke-width="1.4" />
<path d="M1358 868L1397 868M1358 728L1358 868M1397 728L1397 868" fill="none" stroke="#3a3a3a" stroke-width="1.4" />
<line x1="1358" y1="868" x2="1397" y2="868" stroke="#3a3a3a" stroke-width="1.4" />
<line x1="1358" y1="728" x2="1397" y2="728" stroke="#3a3a3a" stroke-width="1.4" />
<path d="M1091 728 L1126 728 M1133 728 L1237 728 M1244 728 L1351 728" fill="none" stroke="#3a3a3a" stroke-width="1.4" />
<rect x="1126" y="765" width="7" height="15" fill="#9b9a9e" stroke="#444" stroke-width="0.8" />
<rect x="1351" y="765" width="7" height="15" fill="#9b9a9e" stroke="#444" stroke-width="0.8" />
<path d="M1091 802 L1351 802" fill="none" stroke="#3a3a3a" stroke-width="1.3" />
<path d="M1091 799 L1091 887 M1126 802 L1126 887" fill="none" stroke="#3a3a3a" stroke-width="1.3" />
<line x1="1412" y1="803" x2="1412" y2="887" stroke="#444" stroke-width="1.3" stroke-dasharray="9 6"/>
<line x1="1358" y1="803" x2="1412" y2="803" stroke="#444" stroke-width="1.3" stroke-dasharray="9 6"/>
<path d="M1004 645 L1004 892 M1478 645 L1478 893 M1478 645 L1446 645" fill="none" stroke="#3a3a3a" stroke-width="1.2" />
<path d="M968 664 L1004 664" fill="none" stroke="#3a3a3a" stroke-width="1" />
<rect x="321" y="887" width="445" height="5" fill="#fff" stroke="none" stroke-width="1" />
<rect x="1004" y="887" width="474" height="5" fill="#fff" stroke="none" stroke-width="1" />
<path d="M321 664 L321 892 L857 892 M326 664 L326 887 L766 887 M766 887 L766 892" fill="none" stroke="#3a3a3a" stroke-width="1.4" />
<line x1="766" y1="887" x2="857" y2="887" stroke="#444" stroke-width="1.3" stroke-dasharray="9 6"/>
<path d="M1004 887 L1478 887 M1004 892 L1552 892" fill="none" stroke="#3a3a3a" stroke-width="1.4" />
<line x1="220" y1="710" x2="321" y2="710" stroke="#444" stroke-width="1.3" stroke-dasharray="9 6"/>
<rect x="230" y="714" width="31" height="97" fill="#f5f1f0" stroke="#3a3a3a" stroke-width="1.3" />
<path d="M232 812 L259 812 L259 842 Q258 850 245 850 Q232 850 232 842 Z" fill="none" stroke="#222" stroke-width="1.1" />
<path d="M233 826 L233 812 L258 812 L258 826" fill="none" stroke="#111" stroke-width="3" />
<path d="M234 826 L239 848 M257 826 L252 848 M233 834 L258 834 M245 831 L245 836" fill="none" stroke="#333" stroke-width="1" />
<rect x="280" y="714" width="31" height="97" fill="#f5f1f0" stroke="#3a3a3a" stroke-width="1.3" />
<path d="M282 812 L309 812 L309 842 Q308 850 295 850 Q282 850 282 842 Z" fill="none" stroke="#222" stroke-width="1.1" />
<path d="M283 826 L283 812 L308 812 L308 826" fill="none" stroke="#111" stroke-width="3" />
<path d="M284 826 L289 848 M307 826 L302 848 M283 834 L308 834 M295 831 L295 836" fill="none" stroke="#333" stroke-width="1" />
<line x1="271" y1="714" x2="271" y2="855" stroke="#444" stroke-width="1.2" stroke-dasharray="6 4"/>
<path d="M220 665 L220 855 M321 664 L220 664" fill="none" stroke="#3a3a3a" stroke-width="1.3" />
<line x1="865" y1="710" x2="962" y2="710" stroke="#444" stroke-width="1.3" stroke-dasharray="9 6"/>
<rect x="873" y="714" width="31" height="97" fill="#f5f1f0" stroke="#3a3a3a" stroke-width="1.3" />
<path d="M875 812 L902 812 L902 842 Q901 850 888 850 Q875 850 875 842 Z" fill="none" stroke="#222" stroke-width="1.1" />
<path d="M876 826 L876 812 L901 812 L901 826" fill="none" stroke="#111" stroke-width="3" />
<path d="M877 826 L882 848 M900 826 L895 848 M876 834 L901 834 M888 831 L888 836" fill="none" stroke="#333" stroke-width="1" />
<rect x="923" y="714" width="31" height="97" fill="#f5f1f0" stroke="#3a3a3a" stroke-width="1.3" />
<path d="M925 812 L952 812 L952 842 Q951 850 938 850 Q925 850 925 842 Z" fill="none" stroke="#222" stroke-width="1.1" />
<path d="M926 826 L926 812 L951 812 L951 826" fill="none" stroke="#111" stroke-width="3" />
<path d="M927 826 L932 848 M950 826 L945 848 M926 834 L951 834 M938 831 L938 836" fill="none" stroke="#333" stroke-width="1" />
<line x1="914" y1="714" x2="914" y2="855" stroke="#444" stroke-width="1.2" stroke-dasharray="6 4"/>
<line x1="865" y1="854" x2="962" y2="854" stroke="#444" stroke-width="1.3" stroke-dasharray="9 6"/>
<path d="M866 660 L866 892 M963 660 L963 892" fill="none" stroke="#3a3a3a" stroke-width="1.2" />
<rect x="866" y="660" width="97" height="3" fill="none" stroke="#3a3a3a" stroke-width="1" />
<line x1="1552" y1="711" x2="1662" y2="711" stroke="#444" stroke-width="1.3" stroke-dasharray="9 6"/>
<rect x="1571" y="714" width="31" height="97" fill="#f5f1f0" stroke="#3a3a3a" stroke-width="1.3" />
<path d="M1573 812 L1600 812 L1600 842 Q1599 850 1586 850 Q1573 850 1573 842 Z" fill="none" stroke="#222" stroke-width="1.1" />
<path d="M1574 826 L1574 812 L1599 812 L1599 826" fill="none" stroke="#111" stroke-width="3" />
<path d="M1575 826 L1580 848 M1598 826 L1593 848 M1574 834 L1599 834 M1586 831 L1586 836" fill="none" stroke="#333" stroke-width="1" />
<rect x="1619" y="714" width="31" height="97" fill="#f5f1f0" stroke="#3a3a3a" stroke-width="1.3" />
<path d="M1621 812 L1648 812 L1648 842 Q1647 850 1634 850 Q1621 850 1621 842 Z" fill="none" stroke="#222" stroke-width="1.1" />
<path d="M1622 826 L1622 812 L1647 812 L1647 826" fill="none" stroke="#111" stroke-width="3" />
<path d="M1623 826 L1628 848 M1646 826 L1641 848 M1622 834 L1647 834 M1634 831 L1634 836" fill="none" stroke="#333" stroke-width="1" />
<path d="M1552 665 L1552 892 M1662 665 L1662 855" fill="none" stroke="#3a3a3a" stroke-width="1.3" />
<rect x="969" y="815" width="35" height="78" fill="#87868a" stroke="#333" stroke-width="1" />
<rect x="973" y="830" width="27" height="50" fill="#d6d5da" stroke="#333" stroke-width="0.8" />
<path d="M974 834.2L999 834.2M974 838.3L999 838.3M974 842.5L999 842.5M974 846.7L999 846.7M974 850.8L999 850.8M974 855.0L999 855.0M974 859.2L999 859.2M974 863.3L999 863.3M974 867.5L999 867.5M974 871.7L999 871.7M974 875.8L999 875.8" fill="none" stroke="#444" stroke-width="0.9" />
<line x1="986.5" y1="830" x2="986.5" y2="880" stroke="#333" stroke-width="1.2" />
<ellipse cx="986" cy="826" rx="12" ry="7" fill="#d6d5da" stroke="#777" stroke-width="1"/>
<ellipse cx="986" cy="884" rx="12" ry="7" fill="#d6d5da" stroke="#777" stroke-width="1"/>
<rect x="1665" y="731" width="22" height="124" fill="#87868a" stroke="#333" stroke-width="1" />
<rect x="1668" y="735" width="16" height="75" fill="#d6d5da" stroke="#333" stroke-width="0.8" />
<path d="M1669 739.7L1683 739.7M1669 744.4L1683 744.4M1669 749.1L1683 749.1M1669 753.8L1683 753.8M1669 758.4L1683 758.4M1669 763.1L1683 763.1M1669 767.8L1683 767.8M1669 772.5L1683 772.5M1669 777.2L1683 777.2M1669 781.9L1683 781.9M1669 786.6L1683 786.6M1669 791.2L1683 791.2M1669 795.9L1683 795.9M1669 800.6L1683 800.6M1669 805.3L1683 805.3" fill="none" stroke="#444" stroke-width="0.9" />
<line x1="1676.0" y1="735" x2="1676.0" y2="810" stroke="#333" stroke-width="1.2" />
<rect x="1668" y="810" width="29" height="45" fill="#d6d5da" stroke="#333" stroke-width="1" />
<line x1="139" y1="901" x2="1883" y2="901" stroke="#4a4a4a" stroke-width="1.6" stroke-dasharray="38 7.5 8.5 7 8.5 7.5"/>
<line x1="139" y1="855" x2="139" y2="901" stroke="#444" stroke-width="1.4" stroke-dasharray="14 6"/>
<line x1="1883" y1="855" x2="1883" y2="901" stroke="#444" stroke-width="1.4" stroke-dasharray="14 6"/>
<rect x="72" y="332" width="30" height="60" fill="#d9dcb9" stroke="#555" stroke-width="1" />
<rect x="72" y="445" width="30" height="227" fill="#d9dcb9" stroke="#555" stroke-width="1" />
<rect x="72" y="689" width="30" height="166" fill="#d9dcb9" stroke="#555" stroke-width="1" />
<line x1="70" y1="245" x2="70" y2="1058" stroke="#666" stroke-width="1.6" />
<circle cx="87" cy="332" r="25.5" fill="#e6e8d5" stroke="#505050" stroke-width="1.1"/>
<path d="M111.5 338.9L110.2 342.5L100.0 340.0ZM101.3 353.1L98.0 355.0L91.9 346.5ZM84.4 357.4L80.7 356.7L81.4 346.2ZM68.7 349.8L66.3 346.9L73.6 339.3ZM61.6 333.9L61.6 330.1L72.0 328.9ZM66.3 317.1L68.8 314.2L77.5 320.0ZM80.7 307.3L84.5 306.6L87.4 316.7ZM98.1 309.0L101.4 310.9L97.1 320.5ZM110.3 321.5L111.6 325.1L102.1 329.7Z" fill="#3f4035" stroke="none"/>
<circle cx="87" cy="332" r="2.0" fill="#333"/>
<circle cx="87" cy="470" r="25.5" fill="#e6e8d5" stroke="#505050" stroke-width="1.1"/>
<path d="M111.5 476.9L110.2 480.5L100.0 478.0ZM101.3 491.1L98.0 493.0L91.9 484.5ZM84.4 495.4L80.7 494.7L81.4 484.2ZM68.7 487.8L66.3 484.9L73.6 477.3ZM61.6 471.9L61.6 468.1L72.0 466.9ZM66.3 455.1L68.8 452.2L77.5 458.0ZM80.7 445.3L84.5 444.6L87.4 454.7ZM98.1 447.0L101.4 448.9L97.1 458.5ZM110.3 459.5L111.6 463.1L102.1 467.7Z" fill="#3f4035" stroke="none"/>
<circle cx="87" cy="470" r="2.0" fill="#333"/>
<circle cx="87" cy="558" r="25.5" fill="#e6e8d5" stroke="#505050" stroke-width="1.1"/>
<path d="M111.5 564.9L110.2 568.5L100.0 566.0ZM101.3 579.1L98.0 581.0L91.9 572.5ZM84.4 583.4L80.7 582.7L81.4 572.2ZM68.7 575.8L66.3 572.9L73.6 565.3ZM61.6 559.9L61.6 556.1L72.0 554.9ZM66.3 543.1L68.8 540.2L77.5 546.0ZM80.7 533.3L84.5 532.6L87.4 542.7ZM98.1 535.0L101.4 536.9L97.1 546.5ZM110.3 547.5L111.6 551.1L102.1 555.7Z" fill="#3f4035" stroke="none"/>
<circle cx="87" cy="558" r="2.0" fill="#333"/>
<circle cx="87" cy="646" r="25.5" fill="#e6e8d5" stroke="#505050" stroke-width="1.1"/>
<path d="M111.5 652.9L110.2 656.5L100.0 654.0ZM101.3 667.1L98.0 669.0L91.9 660.5ZM84.4 671.4L80.7 670.7L81.4 660.2ZM68.7 663.8L66.3 660.9L73.6 653.3ZM61.6 647.9L61.6 644.1L72.0 642.9ZM66.3 631.1L68.8 628.2L77.5 634.0ZM80.7 621.3L84.5 620.6L87.4 630.7ZM98.1 623.0L101.4 624.9L97.1 634.5ZM110.3 635.5L111.6 639.1L102.1 643.7Z" fill="#3f4035" stroke="none"/>
<circle cx="87" cy="646" r="2.0" fill="#333"/>
<circle cx="87" cy="724" r="25.5" fill="#e6e8d5" stroke="#505050" stroke-width="1.1"/>
<path d="M111.5 730.9L110.2 734.5L100.0 732.0ZM101.3 745.1L98.0 747.0L91.9 738.5ZM84.4 749.4L80.7 748.7L81.4 738.2ZM68.7 741.8L66.3 738.9L73.6 731.3ZM61.6 725.9L61.6 722.1L72.0 720.9ZM66.3 709.1L68.8 706.2L77.5 712.0ZM80.7 699.3L84.5 698.6L87.4 708.7ZM98.1 701.0L101.4 702.9L97.1 712.5ZM110.3 713.5L111.6 717.1L102.1 721.7Z" fill="#3f4035" stroke="none"/>
<circle cx="87" cy="724" r="2.0" fill="#333"/>
<circle cx="87" cy="802" r="25.5" fill="#e6e8d5" stroke="#505050" stroke-width="1.1"/>
<path d="M111.5 808.9L110.2 812.5L100.0 810.0ZM101.3 823.1L98.0 825.0L91.9 816.5ZM84.4 827.4L80.7 826.7L81.4 816.2ZM68.7 819.8L66.3 816.9L73.6 809.3ZM61.6 803.9L61.6 800.1L72.0 798.9ZM66.3 787.1L68.8 784.2L77.5 790.0ZM80.7 777.3L84.5 776.6L87.4 786.7ZM98.1 779.0L101.4 780.9L97.1 790.5ZM110.3 791.5L111.6 795.1L102.1 799.7Z" fill="#3f4035" stroke="none"/>
<circle cx="87" cy="802" r="2.0" fill="#333"/>
<rect x="1914" y="264" width="19" height="81" fill="#d9dcb9" stroke="#555" stroke-width="1" />
<rect x="1914" y="446" width="19" height="191" fill="#d9dcb9" stroke="#555" stroke-width="1" />
<rect x="1914" y="661" width="19" height="194" fill="#d9dcb9" stroke="#555" stroke-width="1" />
<line x1="1937" y1="255" x2="1937" y2="1058" stroke="#777" stroke-width="2.2" />
<circle cx="1927" cy="368" r="25.5" fill="#e6e8d5" stroke="#505050" stroke-width="1.1"/>
<path d="M1951.5 374.9L1950.2 378.5L1940.0 376.0ZM1941.3 389.1L1938.0 391.0L1931.9 382.5ZM1924.4 393.4L1920.7 392.7L1921.4 382.2ZM1908.7 385.8L1906.3 382.9L1913.6 375.3ZM1901.6 369.9L1901.6 366.1L1912.0 364.9ZM1906.3 353.1L1908.8 350.2L1917.5 356.0ZM1920.7 343.3L1924.5 342.6L1927.4 352.7ZM1938.1 345.0L1941.4 346.9L1937.1 356.5ZM1950.3 357.5L1951.6 361.1L1942.1 365.7Z" fill="#3f4035" stroke="none"/>
<circle cx="1927" cy="368" r="2.0" fill="#333"/>
<circle cx="1927" cy="525" r="25.5" fill="#e6e8d5" stroke="#505050" stroke-width="1.1"/>
<path d="M1951.5 531.9L1950.2 535.5L1940.0 533.0ZM1941.3 546.1L1938.0 548.0L1931.9 539.5ZM1924.4 550.4L1920.7 549.7L1921.4 539.2ZM1908.7 542.8L1906.3 539.9L1913.6 532.3ZM1901.6 526.9L1901.6 523.1L1912.0 521.9ZM1906.3 510.1L1908.8 507.2L1917.5 513.0ZM1920.7 500.3L1924.5 499.6L1927.4 509.7ZM1938.1 502.0L1941.4 503.9L1937.1 513.5ZM1950.3 514.5L1951.6 518.1L1942.1 522.7Z" fill="#3f4035" stroke="none"/>
<circle cx="1927" cy="525" r="2.0" fill="#333"/>
<circle cx="1927" cy="612" r="25.5" fill="#e6e8d5" stroke="#505050" stroke-width="1.1"/>
<path d="M1951.5 618.9L1950.2 622.5L1940.0 620.0ZM1941.3 633.1L1938.0 635.0L1931.9 626.5ZM1924.4 637.4L1920.7 636.7L1921.4 626.2ZM1908.7 629.8L1906.3 626.9L1913.6 619.3ZM1901.6 613.9L1901.6 610.1L1912.0 608.9ZM1906.3 597.1L1908.8 594.2L1917.5 600.0ZM1920.7 587.3L1924.5 586.6L1927.4 596.7ZM1938.1 589.0L1941.4 590.9L1937.1 600.5ZM1950.3 601.5L1951.6 605.1L1942.1 609.7Z" fill="#3f4035" stroke="none"/>
<circle cx="1927" cy="612" r="2.0" fill="#333"/>
<circle cx="1927" cy="737" r="25.5" fill="#e6e8d5" stroke="#505050" stroke-width="1.1"/>
<path d="M1951.5 743.9L1950.2 747.5L1940.0 745.0ZM1941.3 758.1L1938.0 760.0L1931.9 751.5ZM1924.4 762.4L1920.7 761.7L1921.4 751.2ZM1908.7 754.8L1906.3 751.9L1913.6 744.3ZM1901.6 738.9L1901.6 735.1L1912.0 733.9ZM1906.3 722.1L1908.8 719.2L1917.5 725.0ZM1920.7 712.3L1924.5 711.6L1927.4 721.7ZM1938.1 714.0L1941.4 715.9L1937.1 725.5ZM1950.3 726.5L1951.6 730.1L1942.1 734.7Z" fill="#3f4035" stroke="none"/>
<circle cx="1927" cy="737" r="2.0" fill="#333"/>
<circle cx="1927" cy="817" r="25.5" fill="#e6e8d5" stroke="#505050" stroke-width="1.1"/>
<path d="M1951.5 823.9L1950.2 827.5L1940.0 825.0ZM1941.3 838.1L1938.0 840.0L1931.9 831.5ZM1924.4 842.4L1920.7 841.7L1921.4 831.2ZM1908.7 834.8L1906.3 831.9L1913.6 824.3ZM1901.6 818.9L1901.6 815.1L1912.0 813.9ZM1906.3 802.1L1908.8 799.2L1917.5 805.0ZM1920.7 792.3L1924.5 791.6L1927.4 801.7ZM1938.1 794.0L1941.4 795.9L1937.1 805.5ZM1950.3 806.5L1951.6 810.1L1942.1 814.7Z" fill="#3f4035" stroke="none"/>
<circle cx="1927" cy="817" r="2.0" fill="#333"/>
<path d="M70 881 Q72 903 95 903 L104 903 L104 969 L95 969 Q72 969 70 990" fill="none" stroke="#555" stroke-width="1.4" />
<path d="M1937 886 Q1935 905 1913 905 L1913 969 Q1935 969 1937 990" fill="none" stroke="#555" stroke-width="1.4" />
<path d="M138 172 L138 245 L70 245" fill="none" stroke="#888" stroke-width="1" />
<path d="M195 183 Q205 186 212 194 Q219 202 226 202" fill="none" stroke="#777" stroke-width="1.8" />
<path d="M71 220 L131 220 M70 243 L131 243 M78 215 L78 243 M86 215 L86 243 M109 185 L109 243 M131 180 L131 243 M109 190 L131 183" fill="none" stroke="#9a9696" stroke-width="1.1" />
<rect x="135" y="171" width="17" height="34" fill="#d9dcb9" stroke="#666" stroke-width="1" />
<rect x="190" y="182" width="12" height="21" fill="#d9dcb9" stroke="#555" stroke-width="1" />
<path d="M148 208 L220 208 L220 215 L148 215 Z" fill="#f4f2f0" stroke="#777" stroke-width="1" />
<path d="M161 217 L171 217 M166 212 L166 222" fill="none" stroke="#222" stroke-width="1.5" />
<circle cx="170" cy="189" r="25.5" fill="#e6e8d5" stroke="#505050" stroke-width="1.1"/>
<path d="M194.5 195.9L193.2 199.5L183.0 197.0ZM184.3 210.1L181.0 212.0L174.9 203.5ZM167.4 214.4L163.7 213.7L164.4 203.2ZM151.7 206.8L149.3 203.9L156.6 196.3ZM144.6 190.9L144.6 187.1L155.0 185.9ZM149.3 174.1L151.8 171.2L160.5 177.0ZM163.7 164.3L167.5 163.6L170.4 173.7ZM181.1 166.0L184.4 167.9L180.1 177.5ZM193.3 178.5L194.6 182.1L185.1 186.7Z" fill="#3f4035" stroke="none"/>
<circle cx="170" cy="189" r="2.0" fill="#333"/>
<line x1="229" y1="198" x2="229" y2="222" stroke="#222" stroke-width="2" />
<path d="M1862 171 L1883 171 L1883 255 L1937 255" fill="none" stroke="#999" stroke-width="1" />
<path d="M1883 186 L1902 186 L1902 260 M1925 220 L1925 260 M1883 240 L1935 240" fill="none" stroke="#aaa" stroke-width="1" />
<rect x="1757" y="207" width="69" height="25" fill="#d9dcb9" stroke="#555" stroke-width="1" />
<circle cx="1660" cy="213" r="25.5" fill="#e6e8d5" stroke="#505050" stroke-width="1.1"/>
<path d="M1684.5 219.9L1683.2 223.5L1673.0 221.0ZM1674.3 234.1L1671.0 236.0L1664.9 227.5ZM1657.4 238.4L1653.7 237.7L1654.4 227.2ZM1641.7 230.8L1639.3 227.9L1646.6 220.3ZM1634.6 214.9L1634.6 211.1L1645.0 209.9ZM1639.3 198.1L1641.8 195.2L1650.5 201.0ZM1653.7 188.3L1657.5 187.6L1660.4 197.7ZM1671.1 190.0L1674.4 191.9L1670.1 201.5ZM1683.3 202.5L1684.6 206.1L1675.1 210.7Z" fill="#3f4035" stroke="none"/>
<circle cx="1660" cy="213" r="2.0" fill="#333"/>
<circle cx="1790" cy="215" r="25.5" fill="#e6e8d5" stroke="#505050" stroke-width="1.1"/>
<path d="M1814.5 221.9L1813.2 225.5L1803.0 223.0ZM1804.3 236.1L1801.0 238.0L1794.9 229.5ZM1787.4 240.4L1783.7 239.7L1784.4 229.2ZM1771.7 232.8L1769.3 229.9L1776.6 222.3ZM1764.6 216.9L1764.6 213.1L1775.0 211.9ZM1769.3 200.1L1771.8 197.2L1780.5 203.0ZM1783.7 190.3L1787.5 189.6L1790.4 199.7ZM1801.1 192.0L1804.4 193.9L1800.1 203.5ZM1813.3 204.5L1814.6 208.1L1805.1 212.7Z" fill="#3f4035" stroke="none"/>
<circle cx="1790" cy="215" r="2.0" fill="#333"/>
<rect x="1694" y="216" width="4" height="12" fill="none" stroke="#333" stroke-width="1.4" rx="1.5"/>
<rect x="1707" y="216" width="4" height="12" fill="none" stroke="#333" stroke-width="1.4" rx="1.5"/>
<rect x="1720" y="216" width="3" height="12" fill="#222" stroke="none" stroke-width="1" />
<line x1="1108" y1="216" x2="1108.1" y2="229" stroke="#111" stroke-width="2.5" />
<line x1="1123" y1="216" x2="1123.1" y2="229" stroke="#111" stroke-width="2.5" />
<line x1="1137" y1="216" x2="1137.1" y2="229" stroke="#111" stroke-width="2.5" />
<path d="M1855 176 L1855 212" fill="none" stroke="#222" stroke-width="3" stroke-dasharray="3 1.5"/>
<circle cx="1855" cy="174" r="2.5" fill="none" stroke="#333" stroke-width="1"/>
<path d="M1850 215 L1860 215 M1855 209 L1855 221" fill="none" stroke="#111" stroke-width="1.6" />
<line x1="1862" y1="173" x2="1862" y2="196" stroke="#111" stroke-width="2.5" />
<path d="M609 176 L609 212" fill="none" stroke="#222" stroke-width="3" stroke-dasharray="3 1.5"/>
<circle cx="609" cy="174" r="2.5" fill="none" stroke="#333" stroke-width="1"/>
<path d="M604 215 L614 215 M609 209 L609 221 M606 212 L612 218 M612 212 L606 218" fill="none" stroke="#111" stroke-width="1.6" />
<path d="M1063 176 L1063 212" fill="none" stroke="#222" stroke-width="3" stroke-dasharray="3 1.5"/>
<circle cx="1063" cy="174" r="2.5" fill="none" stroke="#333" stroke-width="1"/>
<path d="M1058 215 L1068 215 M1063 209 L1063 221 M1060 212 L1066 218 M1066 212 L1060 218" fill="none" stroke="#111" stroke-width="1.6" />
<path d="M1492 176 L1492 212" fill="none" stroke="#222" stroke-width="3" stroke-dasharray="3 1.5"/>
<circle cx="1492" cy="174" r="2.5" fill="none" stroke="#333" stroke-width="1"/>
<path d="M1487 215 L1497 215 M1492 209 L1492 221 M1489 212 L1495 218 M1495 212 L1489 218" fill="none" stroke="#111" stroke-width="1.6" />
<path d="M1929 466 L1962 466" fill="none" stroke="#333" stroke-width="3" stroke-dasharray="4 1.5"/>
<circle cx="1965" cy="466" r="2.5" fill="none" stroke="#333" stroke-width="1"/>
<path d="M1922 466 L1936 466 M1929 459 L1929 473" fill="none" stroke="#111" stroke-width="1.8" />
<line x1="1918" y1="311" x2="1941" y2="311" stroke="#111" stroke-width="2.6" />
<path d="M42 381 L75 381" fill="none" stroke="#333" stroke-width="3" stroke-dasharray="4 1.5"/>
<path d="M72 381 L84 381 M78 375 L78 387" fill="none" stroke="#111" stroke-width="1.8" />
<path d="M42 867 L75 867" fill="none" stroke="#333" stroke-width="3" stroke-dasharray="4 1.5"/>
<path d="M72 867 L84 867 M78 861 L78 873" fill="none" stroke="#111" stroke-width="1.8" />
<path d="M1938 867 L1970 867" fill="none" stroke="#333" stroke-width="3" stroke-dasharray="4 1.5"/>
<path d="M1924 867 L1936 867 M1930 861 L1930 873" fill="none" stroke="#111" stroke-width="1.8" />
<circle cx="1966" cy="867" r="2.5" fill="none" stroke="#333" stroke-width="1"/>
<line x1="901" y1="201" x2="901" y2="225" stroke="#111" stroke-width="2.4" />
<path d="M1013 208 Q1019 214 1025 208 M1019 208 L1019 214" fill="none" stroke="#222" stroke-width="2" />
<path d="M68 274 L92 274" fill="none" stroke="#555" stroke-width="1.2" />
<line x1="84" y1="284" x2="96" y2="284" stroke="#111" stroke-width="2.6" />
<line x1="84" y1="290" x2="96" y2="290" stroke="#111" stroke-width="2.6" />
<path d="M803 238.85L829 238.85L816 253.15Z" fill="#000"/>
<path d="M1087 238.85L1113 238.85L1100 253.15Z" fill="#000"/>
<path d="M107.85 414L107.85 440L122.15 427Z" fill="#000"/>
<path d="M456.15 401L456.15 427L441.85 414Z" fill="#000"/>
<path d="M1229.15 401L1229.15 427L1214.85 414Z" fill="#000"/>
<path d="M1567.85 401L1567.85 427L1582.15 414Z" fill="#000"/>
<path d="M1911.15 400L1911.15 426L1896.85 413Z" fill="#000"/>
<path d="M1481.85 517L1481.85 543L1496.15 530Z" fill="#000"/>
<path d="M1006 621.15L1032 621.15L1019 606.85Z" fill="#000"/>
<path d="M801 915.15L827 915.15L814 900.85Z" fill="#000"/>
<path d="M1423 915.15L1449 915.15L1436 900.85Z" fill="#000"/>
<path d="M733 250 L733 556 L861 556 L861 920" fill="none" stroke="#e8892e" stroke-width="7.5" stroke-dasharray="22 11" stroke-dashoffset="10"/>
<path d="M1269 250 L1269 500 L1105 500 L1105 537 L965 537 L965 923" fill="none" stroke="#e04a6e" stroke-width="7.5" stroke-dasharray="22 13"/>
<path d="M479 661 L486 656 L486 659 L499 659 L499 663 L486 663 L486 666 Z" fill="#f5f3f2" stroke="#555" stroke-width="1.2" />
<path d="M499 698 L492 693 L492 696 L479 696 L479 700 L492 700 L492 703 Z" fill="#f5f3f2" stroke="#555" stroke-width="1.2" />
<path d="M479 827 L486 822 L486 825 L499 825 L499 829 L486 829 L486 832 Z" fill="#f5f3f2" stroke="#555" stroke-width="1.2" />
<path d="M499 864 L492 859 L492 862 L479 862 L479 866 L492 866 L492 869 Z" fill="#f5f3f2" stroke="#555" stroke-width="1.2" />
<path d="M355 789 L350 782 L353 782 L353 769 L357 769 L357 782 L360 782 Z" fill="#f5f3f2" stroke="#555" stroke-width="1.2" />
<path d="M392 767 L387 774 L390 774 L390 787 L394 787 L394 774 L397 774 Z" fill="#f5f3f2" stroke="#555" stroke-width="1.2" />
<path d="M797 789 L792 782 L795 782 L795 769 L799 769 L799 782 L802 782 Z" fill="#f5f3f2" stroke="#555" stroke-width="1.2" />
<path d="M833 767 L828 774 L831 774 L831 787 L835 787 L835 774 L838 774 Z" fill="#f5f3f2" stroke="#555" stroke-width="1.2" />
<path d="M1026 797 L1021 790 L1024 790 L1024 777 L1028 777 L1028 790 L1031 790 Z" fill="#f5f3f2" stroke="#555" stroke-width="1.2" />
<path d="M1062 776 L1057 783 L1060 783 L1060 796 L1064 796 L1064 783 L1067 783 Z" fill="#f5f3f2" stroke="#555" stroke-width="1.2" />
<path d="M1285 668 L1292 663 L1292 666 L1305 666 L1305 670 L1292 670 L1292 673 Z" fill="#f5f3f2" stroke="#555" stroke-width="1.2" />
<path d="M1304 704 L1297 699 L1297 702 L1284 702 L1284 706 L1297 706 L1297 709 Z" fill="#f5f3f2" stroke="#555" stroke-width="1.2" />
<path d="M1417 870 L1412 863 L1415 863 L1415 850 L1419 850 L1419 863 L1422 863 Z" fill="#f5f3f2" stroke="#555" stroke-width="1.2" />
<path d="M1454 849 L1449 856 L1452 856 L1452 869 L1456 869 L1456 856 L1459 856 Z" fill="#f5f3f2" stroke="#555" stroke-width="1.2" />
<circle cx="420" cy="845" r="3.5" fill="none" stroke="#444" stroke-width="1"/>
<line x1="423.5" y1="845" x2="580" y2="845" stroke="#777" stroke-width="1.2" />
<path d="M566 835 L580 845 L566 855" fill="none" stroke="#555" stroke-width="1.1" />
<path d="M584 845 L592 844 L586 853 L598 845 M598 825 L590 860 L582 893 M600 822 L594 845" fill="none" stroke="#444" stroke-width="1" />
<circle cx="1091" cy="845" r="3.5" fill="none" stroke="#444" stroke-width="1"/>
<line x1="1094.5" y1="845" x2="1250" y2="845" stroke="#777" stroke-width="1.2" />
<path d="M1236 835 L1250 845 L1236 855" fill="none" stroke="#555" stroke-width="1.1" />
<path d="M1254 845 L1262 844 L1256 853 L1268 845 M1268 825 L1260 860 L1252 893 M1270 822 L1264 845" fill="none" stroke="#444" stroke-width="1" />
<text x="236" y="369" font-family="Liberation Sans" font-size="25" fill="#65613a" textLength="96" lengthAdjust="spacingAndGlyphs">PHASE III</text>
<text x="249" y="396" font-family="Liberation Sans" font-size="25" fill="#65613a" textLength="71" lengthAdjust="spacingAndGlyphs">LOBBY</text>
<text x="1040" y="367.5" font-family="Liberation Sans" font-size="25" fill="#65613a" textLength="91" lengthAdjust="spacingAndGlyphs">PHASE II</text>
<text x="1050" y="396" font-family="Liberation Sans" font-size="25" fill="#65613a" textLength="71" lengthAdjust="spacingAndGlyphs">LOBBY</text>
<text x="1703.5" y="367.5" font-family="Liberation Sans" font-size="25" fill="#65613a" textLength="86" lengthAdjust="spacingAndGlyphs">PHASE I</text>
<text x="1711" y="396" font-family="Liberation Sans" font-size="25" fill="#65613a" textLength="71" lengthAdjust="spacingAndGlyphs">LOBBY</text>
<text x="827.5" y="375" font-family="Liberation Sans" font-size="22" fill="#5a4845" textLength="72.5" lengthAdjust="spacingAndGlyphs">RETAIL</text>
<text x="937" y="943" font-family="Liberation Sans" font-size="21" fill="#222" textLength="150" lengthAdjust="spacingAndGlyphs">PUBLIC ALLEY</text>
<text transform="translate(32,685) rotate(-90)" font-family="Liberation Serif" font-size="33" fill="#374d4c" stroke="#374d4c" stroke-width="0.45" textLength="223" lengthAdjust="spacingAndGlyphs">North Ada Street</text>
<text transform="translate(2029,722) rotate(-90)" font-family="Liberation Serif" font-size="33" fill="#374d4c" stroke="#374d4c" stroke-width="0.45" textLength="297" lengthAdjust="spacingAndGlyphs">North Elizabeth Street</text>
<line x1="1981" y1="251" x2="1981" y2="982" stroke="#2a2a2a" stroke-width="1.2" />
<line x1="1893" y1="263" x2="1993" y2="263" stroke="#2a2a2a" stroke-width="1.1" />
<line x1="1893" y1="855" x2="1993" y2="855" stroke="#2a2a2a" stroke-width="1.1" />
<line x1="1952" y1="971" x2="1993" y2="971" stroke="#2a2a2a" stroke-width="1.1" />
<line x1="1975" y1="257" x2="1987" y2="269" stroke="#111" stroke-width="2.2" />
<line x1="1975" y1="849" x2="1987" y2="861" stroke="#111" stroke-width="2.2" />
<line x1="1975" y1="965" x2="1987" y2="977" stroke="#111" stroke-width="2.2" />
<line x1="1758" y1="843" x2="1758" y2="982" stroke="#2a2a2a" stroke-width="1.2" />
<line x1="1552" y1="893" x2="1770" y2="893" stroke="#2a2a2a" stroke-width="1.1" />
<line x1="1752" y1="849" x2="1764" y2="861" stroke="#111" stroke-width="2.2" />
<line x1="1752" y1="887" x2="1764" y2="899" stroke="#111" stroke-width="2.2" />
<line x1="1752" y1="965" x2="1764" y2="977" stroke="#111" stroke-width="2.2" />
<text transform="translate(1977,582) rotate(-90)" font-family="Liberation Sans" font-size="15" fill="#222" textLength="47" lengthAdjust="spacingAndGlyphs">153'-0"</text>
<text transform="translate(1756,893) rotate(-90)" font-family="Liberation Sans" font-size="15" fill="#222" textLength="38" lengthAdjust="spacingAndGlyphs">10'-1"</text>
<text transform="translate(1756,952) rotate(-90)" font-family="Liberation Sans" font-size="15" fill="#222" textLength="40" lengthAdjust="spacingAndGlyphs">20'-0"</text>
<text transform="translate(1977,933) rotate(-90)" font-family="Liberation Sans" font-size="15" fill="#222" textLength="40" lengthAdjust="spacingAndGlyphs">30'-1"</text>
<rect x="139" y="971" width="1744" height="91" fill="#f8f5f4" stroke="#555" stroke-width="1.4" />
<rect x="153" y="991" width="23" height="9" fill="#e04a6e" stroke="none" stroke-width="1" />
<rect x="153" y="1019" width="23" height="8" fill="#e8892e" stroke="none" stroke-width="1" />
<rect x="191" y="991" width="23" height="9" fill="#e04a6e" stroke="none" stroke-width="1" />
<rect x="191" y="1019" width="23" height="8" fill="#e8892e" stroke="none" stroke-width="1" />
<rect x="229" y="991" width="23" height="9" fill="#e04a6e" stroke="none" stroke-width="1" />
<rect x="229" y="1019" width="23" height="8" fill="#e8892e" stroke="none" stroke-width="1" />
<text x="268" y="1000" font-family="Liberation Sans" font-size="17.3" fill="#6e6e6e" textLength="215" lengthAdjust="spacingAndGlyphs">PHASE LINE - PHASE I + II</text>
<text x="268" y="1028" font-family="Liberation Sans" font-size="17.3" fill="#6e6e6e" textLength="227" lengthAdjust="spacingAndGlyphs">PHASE LINE - PHASE II + III</text>
<rect x="546" y="991" width="100" height="11" fill="#f0e94a" stroke="none" stroke-width="1" />
<text x="662" y="1000" font-family="Liberation Sans" font-size="17.5" fill="#6e6e6e" textLength="203" lengthAdjust="spacingAndGlyphs">ACTIVATED USE ALONG</text>
<text x="662" y="1022" font-family="Liberation Sans" font-size="17.5" fill="#6e6e6e" textLength="209" lengthAdjust="spacingAndGlyphs">PRIMARY STREETS (3.9.1)</text>
<line x1="1758" y1="960" x2="1758" y2="982" stroke="#2a2a2a" stroke-width="1.2" />
<line x1="1752" y1="965" x2="1764" y2="977" stroke="#111" stroke-width="2.2" />
<line x1="1981" y1="960" x2="1981" y2="982" stroke="#2a2a2a" stroke-width="1.2" />
</svg></body></html>
